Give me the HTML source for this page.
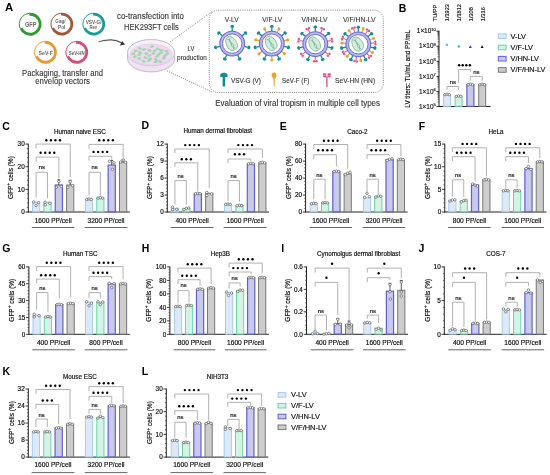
<!DOCTYPE html>
<html><head><meta charset="utf-8"><style>
html,body{margin:0;padding:0;background:#fff;}
svg{display:block;font-family:"Liberation Sans", sans-serif;will-change:transform;}
</style></head><body>
<svg width="550" height="475" viewBox="0 0 550 475">
<rect width="550" height="475" fill="#fff"/>
<text x="5" y="11.4" font-size="10.3" textLength="8.2" lengthAdjust="spacingAndGlyphs" font-weight="bold" fill="#000" >A</text>
<path d="M20.17,28.46 A10.9,10.9 0 0 1 29.25,13.34" fill="none" stroke="#2f9a2f" stroke-width="1.0"/>
<path d="M29.33,14.24 A10.0,10.0 0 1 1 20.99,28.11" fill="none" stroke="#2f9a2f" stroke-width="2.9"/>
<text x="25" y="26.8" font-size="6.6" textLength="11.4" lengthAdjust="spacingAndGlyphs" font-weight="bold" fill="#666" >GFP</text>
<path d="M51.87,28.36 A10.9,10.9 0 0 1 60.95,13.24" fill="none" stroke="#a0573a" stroke-width="1.0"/>
<path d="M61.03,14.14 A10.0,10.0 0 1 1 52.69,28.01" fill="none" stroke="#a0573a" stroke-width="2.9"/>
<text x="55.3" y="22.9" font-size="5.4" textLength="10.3" lengthAdjust="spacingAndGlyphs" font-weight="bold" fill="#666" >Gag/</text>
<text x="58" y="29" font-size="5.4" textLength="7.4" lengthAdjust="spacingAndGlyphs" font-weight="bold" fill="#666" >Pol</text>
<path d="M83.77,28.36 A10.9,10.9 0 0 1 92.85,13.24" fill="none" stroke="#1c9c98" stroke-width="1.0"/>
<path d="M92.93,14.14 A10.0,10.0 0 1 1 84.59,28.01" fill="none" stroke="#1c9c98" stroke-width="2.9"/>
<text x="85.7" y="23.7" font-size="4.9" textLength="15.9" lengthAdjust="spacingAndGlyphs" font-weight="bold" fill="#666" >VSV-G/</text>
<text x="89.4" y="29.3" font-size="5.0" textLength="7.7" lengthAdjust="spacingAndGlyphs" font-weight="bold" fill="#666" >Rev</text>
<path d="M35.47,56.56 A10.9,10.9 0 0 1 44.55,41.44" fill="none" stroke="#e8992e" stroke-width="1.0"/>
<path d="M44.63,42.34 A10.0,10.0 0 1 1 36.29,56.21" fill="none" stroke="#e8992e" stroke-width="2.9"/>
<text x="38.6" y="55" font-size="5.6" textLength="14.3" lengthAdjust="spacingAndGlyphs" font-weight="bold" fill="#666" >SeV-F</text>
<path d="M66.77,56.56 A10.9,10.9 0 0 1 75.85,41.44" fill="none" stroke="#d64c7c" stroke-width="1.0"/>
<path d="M75.93,42.34 A10.0,10.0 0 1 1 67.59,56.21" fill="none" stroke="#d64c7c" stroke-width="2.9"/>
<text x="68.8" y="54.8" font-size="5.0" textLength="15.8" lengthAdjust="spacingAndGlyphs" font-weight="bold" fill="#666" >SeV-HN</text>
<text x="22.1" y="75.6" font-size="8.5" textLength="81" lengthAdjust="spacingAndGlyphs" font-weight="normal" fill="#383838" stroke="#383838" stroke-width="0.12" >Packaging, transfer and</text>
<text x="35.2" y="84.4" font-size="8.5" textLength="54.8" lengthAdjust="spacingAndGlyphs" font-weight="normal" fill="#383838" stroke="#383838" stroke-width="0.12" >envelop vectors</text>
<text x="117" y="19.1" font-size="8.5" textLength="67" lengthAdjust="spacingAndGlyphs" font-weight="normal" fill="#383838" stroke="#383838" stroke-width="0.12" >co-transfection into</text>
<text x="124.1" y="30" font-size="8.5" textLength="54.6" lengthAdjust="spacingAndGlyphs" font-weight="normal" fill="#383838" stroke="#383838" stroke-width="0.12" >HEK293FT cells</text>
<path d="M98.6,41.9 Q105,40.2 111,40.3 Q116.5,40.6 121.2,43.0 L121.6,42.2 Q116.5,39.5 111,39.4 Q104.5,39.5 98.6,41.6 Z" fill="#333" stroke="#333" stroke-width="0.25"/>
<polygon points="125.1,44.6 119.9,45.5 122.1,41.0" fill="#333"/>
<path d="M127.6,52.7 A23.5,13.1 0 0 1 174.6,52.7 L174.6,58.8 A23.5,13.1 0 0 1 127.6,58.8 Z" fill="#f1e2f3" stroke="#b5adb9" stroke-width="0.8"/>
<ellipse cx="151.1" cy="52.7" rx="23.5" ry="13.1" fill="#f6f0f7" stroke="#c2bac6" stroke-width="0.75"/>
<ellipse cx="151.1" cy="54.4" rx="21.0" ry="10.4" fill="#eedaf2" stroke="#d6c2dc" stroke-width="0.5"/>
<ellipse cx="149.29" cy="55.48" rx="1.9" ry="0.9" transform="rotate(-5 149.29 55.48)" fill="#a6dbae" stroke="#86c996" stroke-width="0.35"/>
<ellipse cx="167.22" cy="53.78" rx="1.9" ry="0.9" transform="rotate(-13 167.22 53.78)" fill="#a6dbae" stroke="#86c996" stroke-width="0.35"/>
<ellipse cx="139.12" cy="54.61" rx="1.9" ry="0.9" transform="rotate(-12 139.12 54.61)" fill="#a6dbae" stroke="#86c996" stroke-width="0.35"/>
<ellipse cx="156.04" cy="59.67" rx="1.9" ry="0.9" transform="rotate(24 156.04 59.67)" fill="#a6dbae" stroke="#86c996" stroke-width="0.35"/>
<ellipse cx="135.68" cy="50.86" rx="1.9" ry="0.9" transform="rotate(-13 135.68 50.86)" fill="#a6dbae" stroke="#86c996" stroke-width="0.35"/>
<ellipse cx="156.95" cy="56.48" rx="1.9" ry="0.9" transform="rotate(-19 156.95 56.48)" fill="#a6dbae" stroke="#86c996" stroke-width="0.35"/>
<ellipse cx="152.18" cy="46.47" rx="1.9" ry="0.9" transform="rotate(-17 152.18 46.47)" fill="#a6dbae" stroke="#86c996" stroke-width="0.35"/>
<ellipse cx="133.24" cy="53.75" rx="1.9" ry="0.9" transform="rotate(-10 133.24 53.75)" fill="#a6dbae" stroke="#86c996" stroke-width="0.35"/>
<ellipse cx="148.84" cy="60.56" rx="1.9" ry="0.9" transform="rotate(-17 148.84 60.56)" fill="#a6dbae" stroke="#86c996" stroke-width="0.35"/>
<ellipse cx="149.48" cy="50.41" rx="1.9" ry="0.9" transform="rotate(21 149.48 50.41)" fill="#a6dbae" stroke="#86c996" stroke-width="0.35"/>
<ellipse cx="164.03" cy="58.14" rx="1.9" ry="0.9" transform="rotate(-20 164.03 58.14)" fill="#a6dbae" stroke="#86c996" stroke-width="0.35"/>
<ellipse cx="144.08" cy="49.53" rx="1.9" ry="0.9" transform="rotate(-9 144.08 49.53)" fill="#a6dbae" stroke="#86c996" stroke-width="0.35"/>
<ellipse cx="161.22" cy="52.61" rx="1.9" ry="0.9" transform="rotate(-1 161.22 52.61)" fill="#a6dbae" stroke="#86c996" stroke-width="0.35"/>
<ellipse cx="134.88" cy="56.73" rx="1.9" ry="0.9" transform="rotate(-19 134.88 56.73)" fill="#a6dbae" stroke="#86c996" stroke-width="0.35"/>
<ellipse cx="161.68" cy="50.26" rx="1.9" ry="0.9" transform="rotate(2 161.68 50.26)" fill="#a6dbae" stroke="#86c996" stroke-width="0.35"/>
<ellipse cx="153.35" cy="53.45" rx="1.9" ry="0.9" transform="rotate(1 153.35 53.45)" fill="#a6dbae" stroke="#86c996" stroke-width="0.35"/>
<ellipse cx="139.35" cy="58.57" rx="1.9" ry="0.9" transform="rotate(9 139.35 58.57)" fill="#a6dbae" stroke="#86c996" stroke-width="0.35"/>
<ellipse cx="143.66" cy="61.33" rx="1.9" ry="0.9" transform="rotate(25 143.66 61.33)" fill="#a6dbae" stroke="#86c996" stroke-width="0.35"/>
<ellipse cx="140.11" cy="52.5" rx="1.9" ry="0.9" transform="rotate(20 140.11 52.5)" fill="#a6dbae" stroke="#86c996" stroke-width="0.35"/>
<ellipse cx="146.22" cy="53.56" rx="1.9" ry="0.9" transform="rotate(-17 146.22 53.56)" fill="#a6dbae" stroke="#86c996" stroke-width="0.35"/>
<ellipse cx="154.77" cy="50.68" rx="1.9" ry="0.9" transform="rotate(-13 154.77 50.68)" fill="#a6dbae" stroke="#86c996" stroke-width="0.35"/>
<ellipse cx="150.42" cy="58.55" rx="1.9" ry="0.9" transform="rotate(0 150.42 58.55)" fill="#a6dbae" stroke="#86c996" stroke-width="0.35"/>
<ellipse cx="160.11" cy="61.6" rx="1.9" ry="0.9" transform="rotate(15 160.11 61.6)" fill="#a6dbae" stroke="#86c996" stroke-width="0.35"/>
<ellipse cx="145.47" cy="57.73" rx="1.9" ry="0.9" transform="rotate(18 145.47 57.73)" fill="#a6dbae" stroke="#86c996" stroke-width="0.35"/>
<ellipse cx="164.91" cy="55.71" rx="1.9" ry="0.9" transform="rotate(-24 164.91 55.71)" fill="#a6dbae" stroke="#86c996" stroke-width="0.35"/>
<ellipse cx="158.64" cy="54.35" rx="1.9" ry="0.9" transform="rotate(-19 158.64 54.35)" fill="#a6dbae" stroke="#86c996" stroke-width="0.35"/>
<ellipse cx="155.45" cy="61.97" rx="1.9" ry="0.9" transform="rotate(-13 155.45 61.97)" fill="#a6dbae" stroke="#86c996" stroke-width="0.35"/>
<ellipse cx="139.8" cy="48.45" rx="1.9" ry="0.9" transform="rotate(11 139.8 48.45)" fill="#a6dbae" stroke="#86c996" stroke-width="0.35"/>
<ellipse cx="158.11" cy="48.99" rx="1.9" ry="0.9" transform="rotate(18 158.11 48.99)" fill="#a6dbae" stroke="#86c996" stroke-width="0.35"/>
<ellipse cx="166.4" cy="51.09" rx="1.9" ry="0.9" transform="rotate(-3 166.4 51.09)" fill="#a6dbae" stroke="#86c996" stroke-width="0.35"/>
<text x="187.6" y="51.4" font-size="6.6" textLength="6.7" lengthAdjust="spacingAndGlyphs" font-weight="normal" fill="#383838" stroke="#383838" stroke-width="0.12" >LV</text>
<text x="177.1" y="59.6" font-size="6.9" textLength="29.7" lengthAdjust="spacingAndGlyphs" font-weight="normal" fill="#383838" stroke="#383838" stroke-width="0.12" >production</text>
<path d="M170.3,41.8 L212.6,11.2" fill="none" stroke="#6a6a6a" stroke-width="0.9" stroke-dasharray="0.9,1.3"/>
<path d="M167.0,70.8 L212.8,92.3" fill="none" stroke="#6a6a6a" stroke-width="0.9" stroke-dasharray="0.9,1.3"/>
<rect x="209.3" y="10.1" width="174.0" height="82.4" rx="9" ry="9" fill="none" stroke="#6a6a6a" stroke-width="0.9" stroke-dasharray="0.9,1.3"/>
<text x="224.7" y="21.9" font-size="7.2" textLength="13.9" lengthAdjust="spacingAndGlyphs" font-weight="normal" fill="#3a3a3a" stroke="#3a3a3a" stroke-width="0.12" >V-LV</text>
<g transform="rotate(0 232.2 43.6)"><rect x="231.55" y="27" width="1.3" height="4.2" fill="#1a8a92"/><path d="M230.4,27.6 C230.1,25.3 231.2,25 232.2,25 C233.2,25 234.3,25.3 234,27.6 Z" fill="#1a8a92"/></g>
<g transform="rotate(51.43 232.2 43.6)"><rect x="231.55" y="27" width="1.3" height="4.2" fill="#1a8a92"/><path d="M230.4,27.6 C230.1,25.3 231.2,25 232.2,25 C233.2,25 234.3,25.3 234,27.6 Z" fill="#1a8a92"/></g>
<g transform="rotate(102.86 232.2 43.6)"><rect x="231.55" y="27" width="1.3" height="4.2" fill="#1a8a92"/><path d="M230.4,27.6 C230.1,25.3 231.2,25 232.2,25 C233.2,25 234.3,25.3 234,27.6 Z" fill="#1a8a92"/></g>
<g transform="rotate(154.29 232.2 43.6)"><rect x="231.55" y="27" width="1.3" height="4.2" fill="#1a8a92"/><path d="M230.4,27.6 C230.1,25.3 231.2,25 232.2,25 C233.2,25 234.3,25.3 234,27.6 Z" fill="#1a8a92"/></g>
<g transform="rotate(205.71 232.2 43.6)"><rect x="231.55" y="27" width="1.3" height="4.2" fill="#1a8a92"/><path d="M230.4,27.6 C230.1,25.3 231.2,25 232.2,25 C233.2,25 234.3,25.3 234,27.6 Z" fill="#1a8a92"/></g>
<g transform="rotate(257.14 232.2 43.6)"><rect x="231.55" y="27" width="1.3" height="4.2" fill="#1a8a92"/><path d="M230.4,27.6 C230.1,25.3 231.2,25 232.2,25 C233.2,25 234.3,25.3 234,27.6 Z" fill="#1a8a92"/></g>
<g transform="rotate(308.57 232.2 43.6)"><rect x="231.55" y="27" width="1.3" height="4.2" fill="#1a8a92"/><path d="M230.4,27.6 C230.1,25.3 231.2,25 232.2,25 C233.2,25 234.3,25.3 234,27.6 Z" fill="#1a8a92"/></g>
<circle cx="232.2" cy="43.6" r="12.4" fill="#b2b4ec" stroke="#6a6ad2" stroke-width="1.05"/>
<circle cx="232.2" cy="43.6" r="10.8" fill="none" stroke="#c9cbf2" stroke-width="0.6" stroke-dasharray="0.8,0.8"/>
<circle cx="232.2" cy="43.6" r="9.7" fill="#fff" stroke="#6a6ad2" stroke-width="0.9"/>
<g transform="translate(231.4,43.4) rotate(-28) scale(1.1)"><path d="M0,-6.8 C3.8,-6.8 4.9,-1 4.7,1.5 C4.5,4.8 2.5,6.6 0,6.6 C-2.5,6.6 -4.5,4.8 -4.7,1.5 C-4.9,-1 -3.8,-6.8 0,-6.8 Z" fill="#d3ecdb" stroke="#86bfa0" stroke-width="0.8"/><path d="M-1.6,-4.8 C1.8,-3.4 -2.2,-1.2 0.4,0.6 C2.6,2.2 -1.6,3.6 0.9,5.3" fill="none" stroke="#6aa888" stroke-width="0.6"/><path d="M1.2,-4.9 C-2.0,-3.2 1.8,-1.0 -0.5,0.8 C-2.4,2.4 1.6,3.8 -0.8,5.3" fill="none" stroke="#6aa888" stroke-width="0.6"/></g>
<text x="262.2" y="21.9" font-size="7.2" textLength="20.1" lengthAdjust="spacingAndGlyphs" font-weight="normal" fill="#3a3a3a" stroke="#3a3a3a" stroke-width="0.12" >V/F-LV</text>
<g transform="rotate(0 271.8 43.6)"><rect x="271.15" y="27" width="1.3" height="4.2" fill="#1a8a92"/><path d="M270,27.6 C269.7,25.3 270.8,25 271.8,25 C272.8,25 273.9,25.3 273.6,27.6 Z" fill="#1a8a92"/></g>
<g transform="rotate(51.43 271.8 43.6)"><rect x="271.15" y="27" width="1.3" height="4.2" fill="#1a8a92"/><path d="M270,27.6 C269.7,25.3 270.8,25 271.8,25 C272.8,25 273.9,25.3 273.6,27.6 Z" fill="#1a8a92"/></g>
<g transform="rotate(102.86 271.8 43.6)"><rect x="271.15" y="27" width="1.3" height="4.2" fill="#1a8a92"/><path d="M270,27.6 C269.7,25.3 270.8,25 271.8,25 C272.8,25 273.9,25.3 273.6,27.6 Z" fill="#1a8a92"/></g>
<g transform="rotate(154.29 271.8 43.6)"><rect x="271.15" y="27" width="1.3" height="4.2" fill="#1a8a92"/><path d="M270,27.6 C269.7,25.3 270.8,25 271.8,25 C272.8,25 273.9,25.3 273.6,27.6 Z" fill="#1a8a92"/></g>
<g transform="rotate(205.71 271.8 43.6)"><rect x="271.15" y="27" width="1.3" height="4.2" fill="#1a8a92"/><path d="M270,27.6 C269.7,25.3 270.8,25 271.8,25 C272.8,25 273.9,25.3 273.6,27.6 Z" fill="#1a8a92"/></g>
<g transform="rotate(257.14 271.8 43.6)"><rect x="271.15" y="27" width="1.3" height="4.2" fill="#1a8a92"/><path d="M270,27.6 C269.7,25.3 270.8,25 271.8,25 C272.8,25 273.9,25.3 273.6,27.6 Z" fill="#1a8a92"/></g>
<g transform="rotate(308.57 271.8 43.6)"><rect x="271.15" y="27" width="1.3" height="4.2" fill="#1a8a92"/><path d="M270,27.6 C269.7,25.3 270.8,25 271.8,25 C272.8,25 273.9,25.3 273.6,27.6 Z" fill="#1a8a92"/></g>
<g transform="rotate(25.71 271.8 43.6)"><rect x="271.25" y="27.8" width="1.1" height="3.4" fill="#eba12c"/><ellipse cx="271.8" cy="27.2" rx="1.45" ry="1.6" fill="#eba12c"/></g>
<g transform="rotate(77.14 271.8 43.6)"><rect x="271.25" y="27.8" width="1.1" height="3.4" fill="#eba12c"/><ellipse cx="271.8" cy="27.2" rx="1.45" ry="1.6" fill="#eba12c"/></g>
<g transform="rotate(128.57 271.8 43.6)"><rect x="271.25" y="27.8" width="1.1" height="3.4" fill="#eba12c"/><ellipse cx="271.8" cy="27.2" rx="1.45" ry="1.6" fill="#eba12c"/></g>
<g transform="rotate(180 271.8 43.6)"><rect x="271.25" y="27.8" width="1.1" height="3.4" fill="#eba12c"/><ellipse cx="271.8" cy="27.2" rx="1.45" ry="1.6" fill="#eba12c"/></g>
<g transform="rotate(231.43 271.8 43.6)"><rect x="271.25" y="27.8" width="1.1" height="3.4" fill="#eba12c"/><ellipse cx="271.8" cy="27.2" rx="1.45" ry="1.6" fill="#eba12c"/></g>
<g transform="rotate(282.86 271.8 43.6)"><rect x="271.25" y="27.8" width="1.1" height="3.4" fill="#eba12c"/><ellipse cx="271.8" cy="27.2" rx="1.45" ry="1.6" fill="#eba12c"/></g>
<g transform="rotate(334.29 271.8 43.6)"><rect x="271.25" y="27.8" width="1.1" height="3.4" fill="#eba12c"/><ellipse cx="271.8" cy="27.2" rx="1.45" ry="1.6" fill="#eba12c"/></g>
<circle cx="271.8" cy="43.6" r="12.4" fill="#b2b4ec" stroke="#6a6ad2" stroke-width="1.05"/>
<circle cx="271.8" cy="43.6" r="10.8" fill="none" stroke="#c9cbf2" stroke-width="0.6" stroke-dasharray="0.8,0.8"/>
<circle cx="271.8" cy="43.6" r="9.7" fill="#fff" stroke="#6a6ad2" stroke-width="0.9"/>
<g transform="translate(271,43.4) rotate(-28) scale(1.1)"><path d="M0,-6.8 C3.8,-6.8 4.9,-1 4.7,1.5 C4.5,4.8 2.5,6.6 0,6.6 C-2.5,6.6 -4.5,4.8 -4.7,1.5 C-4.9,-1 -3.8,-6.8 0,-6.8 Z" fill="#d3ecdb" stroke="#86bfa0" stroke-width="0.8"/><path d="M-1.6,-4.8 C1.8,-3.4 -2.2,-1.2 0.4,0.6 C2.6,2.2 -1.6,3.6 0.9,5.3" fill="none" stroke="#6aa888" stroke-width="0.6"/><path d="M1.2,-4.9 C-2.0,-3.2 1.8,-1.0 -0.5,0.8 C-2.4,2.4 1.6,3.8 -0.8,5.3" fill="none" stroke="#6aa888" stroke-width="0.6"/></g>
<text x="301.5" y="21.9" font-size="7.2" textLength="26.1" lengthAdjust="spacingAndGlyphs" font-weight="normal" fill="#3a3a3a" stroke="#3a3a3a" stroke-width="0.12" >V/HN-LV</text>
<g transform="rotate(0 315.3 44.1)"><rect x="314.65" y="27.5" width="1.3" height="4.2" fill="#1a8a92"/><path d="M313.5,28.1 C313.2,25.8 314.3,25.5 315.3,25.5 C316.3,25.5 317.4,25.8 317.1,28.1 Z" fill="#1a8a92"/></g>
<g transform="rotate(51.43 315.3 44.1)"><rect x="314.65" y="27.5" width="1.3" height="4.2" fill="#1a8a92"/><path d="M313.5,28.1 C313.2,25.8 314.3,25.5 315.3,25.5 C316.3,25.5 317.4,25.8 317.1,28.1 Z" fill="#1a8a92"/></g>
<g transform="rotate(102.86 315.3 44.1)"><rect x="314.65" y="27.5" width="1.3" height="4.2" fill="#1a8a92"/><path d="M313.5,28.1 C313.2,25.8 314.3,25.5 315.3,25.5 C316.3,25.5 317.4,25.8 317.1,28.1 Z" fill="#1a8a92"/></g>
<g transform="rotate(154.29 315.3 44.1)"><rect x="314.65" y="27.5" width="1.3" height="4.2" fill="#1a8a92"/><path d="M313.5,28.1 C313.2,25.8 314.3,25.5 315.3,25.5 C316.3,25.5 317.4,25.8 317.1,28.1 Z" fill="#1a8a92"/></g>
<g transform="rotate(205.71 315.3 44.1)"><rect x="314.65" y="27.5" width="1.3" height="4.2" fill="#1a8a92"/><path d="M313.5,28.1 C313.2,25.8 314.3,25.5 315.3,25.5 C316.3,25.5 317.4,25.8 317.1,28.1 Z" fill="#1a8a92"/></g>
<g transform="rotate(257.14 315.3 44.1)"><rect x="314.65" y="27.5" width="1.3" height="4.2" fill="#1a8a92"/><path d="M313.5,28.1 C313.2,25.8 314.3,25.5 315.3,25.5 C316.3,25.5 317.4,25.8 317.1,28.1 Z" fill="#1a8a92"/></g>
<g transform="rotate(308.57 315.3 44.1)"><rect x="314.65" y="27.5" width="1.3" height="4.2" fill="#1a8a92"/><path d="M313.5,28.1 C313.2,25.8 314.3,25.5 315.3,25.5 C316.3,25.5 317.4,25.8 317.1,28.1 Z" fill="#1a8a92"/></g>
<g transform="rotate(25.71 315.3 44.1)"><rect x="314.8" y="27.9" width="1" height="3.8" fill="#dc5a86"/><circle cx="314.05" cy="27" r="1.25" fill="#dc5a86"/><circle cx="316.55" cy="27" r="1.25" fill="#dc5a86"/></g>
<g transform="rotate(77.14 315.3 44.1)"><rect x="314.8" y="27.9" width="1" height="3.8" fill="#dc5a86"/><circle cx="314.05" cy="27" r="1.25" fill="#dc5a86"/><circle cx="316.55" cy="27" r="1.25" fill="#dc5a86"/></g>
<g transform="rotate(128.57 315.3 44.1)"><rect x="314.8" y="27.9" width="1" height="3.8" fill="#dc5a86"/><circle cx="314.05" cy="27" r="1.25" fill="#dc5a86"/><circle cx="316.55" cy="27" r="1.25" fill="#dc5a86"/></g>
<g transform="rotate(180 315.3 44.1)"><rect x="314.8" y="27.9" width="1" height="3.8" fill="#dc5a86"/><circle cx="314.05" cy="27" r="1.25" fill="#dc5a86"/><circle cx="316.55" cy="27" r="1.25" fill="#dc5a86"/></g>
<g transform="rotate(231.43 315.3 44.1)"><rect x="314.8" y="27.9" width="1" height="3.8" fill="#dc5a86"/><circle cx="314.05" cy="27" r="1.25" fill="#dc5a86"/><circle cx="316.55" cy="27" r="1.25" fill="#dc5a86"/></g>
<g transform="rotate(282.86 315.3 44.1)"><rect x="314.8" y="27.9" width="1" height="3.8" fill="#dc5a86"/><circle cx="314.05" cy="27" r="1.25" fill="#dc5a86"/><circle cx="316.55" cy="27" r="1.25" fill="#dc5a86"/></g>
<g transform="rotate(334.29 315.3 44.1)"><rect x="314.8" y="27.9" width="1" height="3.8" fill="#dc5a86"/><circle cx="314.05" cy="27" r="1.25" fill="#dc5a86"/><circle cx="316.55" cy="27" r="1.25" fill="#dc5a86"/></g>
<circle cx="315.3" cy="44.1" r="12.4" fill="#b2b4ec" stroke="#6a6ad2" stroke-width="1.05"/>
<circle cx="315.3" cy="44.1" r="10.8" fill="none" stroke="#c9cbf2" stroke-width="0.6" stroke-dasharray="0.8,0.8"/>
<circle cx="315.3" cy="44.1" r="9.7" fill="#fff" stroke="#6a6ad2" stroke-width="0.9"/>
<g transform="translate(314.5,43.9) rotate(-28) scale(1.1)"><path d="M0,-6.8 C3.8,-6.8 4.9,-1 4.7,1.5 C4.5,4.8 2.5,6.6 0,6.6 C-2.5,6.6 -4.5,4.8 -4.7,1.5 C-4.9,-1 -3.8,-6.8 0,-6.8 Z" fill="#d3ecdb" stroke="#86bfa0" stroke-width="0.8"/><path d="M-1.6,-4.8 C1.8,-3.4 -2.2,-1.2 0.4,0.6 C2.6,2.2 -1.6,3.6 0.9,5.3" fill="none" stroke="#6aa888" stroke-width="0.6"/><path d="M1.2,-4.9 C-2.0,-3.2 1.8,-1.0 -0.5,0.8 C-2.4,2.4 1.6,3.8 -0.8,5.3" fill="none" stroke="#6aa888" stroke-width="0.6"/></g>
<text x="342.9" y="21.9" font-size="7.2" textLength="32.7" lengthAdjust="spacingAndGlyphs" font-weight="normal" fill="#3a3a3a" stroke="#3a3a3a" stroke-width="0.12" >V/F/HN-LV</text>
<g transform="rotate(0 358.3 44.3)"><rect x="357.65" y="27.7" width="1.3" height="4.2" fill="#1a8a92"/><path d="M356.5,28.3 C356.2,26 357.3,25.7 358.3,25.7 C359.3,25.7 360.4,26 360.1,28.3 Z" fill="#1a8a92"/></g>
<g transform="rotate(51.43 358.3 44.3)"><rect x="357.65" y="27.7" width="1.3" height="4.2" fill="#1a8a92"/><path d="M356.5,28.3 C356.2,26 357.3,25.7 358.3,25.7 C359.3,25.7 360.4,26 360.1,28.3 Z" fill="#1a8a92"/></g>
<g transform="rotate(102.86 358.3 44.3)"><rect x="357.65" y="27.7" width="1.3" height="4.2" fill="#1a8a92"/><path d="M356.5,28.3 C356.2,26 357.3,25.7 358.3,25.7 C359.3,25.7 360.4,26 360.1,28.3 Z" fill="#1a8a92"/></g>
<g transform="rotate(154.29 358.3 44.3)"><rect x="357.65" y="27.7" width="1.3" height="4.2" fill="#1a8a92"/><path d="M356.5,28.3 C356.2,26 357.3,25.7 358.3,25.7 C359.3,25.7 360.4,26 360.1,28.3 Z" fill="#1a8a92"/></g>
<g transform="rotate(205.71 358.3 44.3)"><rect x="357.65" y="27.7" width="1.3" height="4.2" fill="#1a8a92"/><path d="M356.5,28.3 C356.2,26 357.3,25.7 358.3,25.7 C359.3,25.7 360.4,26 360.1,28.3 Z" fill="#1a8a92"/></g>
<g transform="rotate(257.14 358.3 44.3)"><rect x="357.65" y="27.7" width="1.3" height="4.2" fill="#1a8a92"/><path d="M356.5,28.3 C356.2,26 357.3,25.7 358.3,25.7 C359.3,25.7 360.4,26 360.1,28.3 Z" fill="#1a8a92"/></g>
<g transform="rotate(308.57 358.3 44.3)"><rect x="357.65" y="27.7" width="1.3" height="4.2" fill="#1a8a92"/><path d="M356.5,28.3 C356.2,26 357.3,25.7 358.3,25.7 C359.3,25.7 360.4,26 360.1,28.3 Z" fill="#1a8a92"/></g>
<g transform="rotate(17.14 358.3 44.3)"><rect x="357.75" y="28.5" width="1.1" height="3.4" fill="#eba12c"/><ellipse cx="358.3" cy="27.9" rx="1.45" ry="1.6" fill="#eba12c"/></g>
<g transform="rotate(68.57 358.3 44.3)"><rect x="357.75" y="28.5" width="1.1" height="3.4" fill="#eba12c"/><ellipse cx="358.3" cy="27.9" rx="1.45" ry="1.6" fill="#eba12c"/></g>
<g transform="rotate(120 358.3 44.3)"><rect x="357.75" y="28.5" width="1.1" height="3.4" fill="#eba12c"/><ellipse cx="358.3" cy="27.9" rx="1.45" ry="1.6" fill="#eba12c"/></g>
<g transform="rotate(171.43 358.3 44.3)"><rect x="357.75" y="28.5" width="1.1" height="3.4" fill="#eba12c"/><ellipse cx="358.3" cy="27.9" rx="1.45" ry="1.6" fill="#eba12c"/></g>
<g transform="rotate(222.86 358.3 44.3)"><rect x="357.75" y="28.5" width="1.1" height="3.4" fill="#eba12c"/><ellipse cx="358.3" cy="27.9" rx="1.45" ry="1.6" fill="#eba12c"/></g>
<g transform="rotate(274.29 358.3 44.3)"><rect x="357.75" y="28.5" width="1.1" height="3.4" fill="#eba12c"/><ellipse cx="358.3" cy="27.9" rx="1.45" ry="1.6" fill="#eba12c"/></g>
<g transform="rotate(325.71 358.3 44.3)"><rect x="357.75" y="28.5" width="1.1" height="3.4" fill="#eba12c"/><ellipse cx="358.3" cy="27.9" rx="1.45" ry="1.6" fill="#eba12c"/></g>
<g transform="rotate(34.29 358.3 44.3)"><rect x="357.8" y="28.1" width="1" height="3.8" fill="#dc5a86"/><circle cx="357.05" cy="27.2" r="1.25" fill="#dc5a86"/><circle cx="359.55" cy="27.2" r="1.25" fill="#dc5a86"/></g>
<g transform="rotate(85.71 358.3 44.3)"><rect x="357.8" y="28.1" width="1" height="3.8" fill="#dc5a86"/><circle cx="357.05" cy="27.2" r="1.25" fill="#dc5a86"/><circle cx="359.55" cy="27.2" r="1.25" fill="#dc5a86"/></g>
<g transform="rotate(137.14 358.3 44.3)"><rect x="357.8" y="28.1" width="1" height="3.8" fill="#dc5a86"/><circle cx="357.05" cy="27.2" r="1.25" fill="#dc5a86"/><circle cx="359.55" cy="27.2" r="1.25" fill="#dc5a86"/></g>
<g transform="rotate(188.57 358.3 44.3)"><rect x="357.8" y="28.1" width="1" height="3.8" fill="#dc5a86"/><circle cx="357.05" cy="27.2" r="1.25" fill="#dc5a86"/><circle cx="359.55" cy="27.2" r="1.25" fill="#dc5a86"/></g>
<g transform="rotate(240 358.3 44.3)"><rect x="357.8" y="28.1" width="1" height="3.8" fill="#dc5a86"/><circle cx="357.05" cy="27.2" r="1.25" fill="#dc5a86"/><circle cx="359.55" cy="27.2" r="1.25" fill="#dc5a86"/></g>
<g transform="rotate(291.43 358.3 44.3)"><rect x="357.8" y="28.1" width="1" height="3.8" fill="#dc5a86"/><circle cx="357.05" cy="27.2" r="1.25" fill="#dc5a86"/><circle cx="359.55" cy="27.2" r="1.25" fill="#dc5a86"/></g>
<g transform="rotate(342.86 358.3 44.3)"><rect x="357.8" y="28.1" width="1" height="3.8" fill="#dc5a86"/><circle cx="357.05" cy="27.2" r="1.25" fill="#dc5a86"/><circle cx="359.55" cy="27.2" r="1.25" fill="#dc5a86"/></g>
<circle cx="358.3" cy="44.3" r="12.4" fill="#b2b4ec" stroke="#6a6ad2" stroke-width="1.05"/>
<circle cx="358.3" cy="44.3" r="10.8" fill="none" stroke="#c9cbf2" stroke-width="0.6" stroke-dasharray="0.8,0.8"/>
<circle cx="358.3" cy="44.3" r="9.7" fill="#fff" stroke="#6a6ad2" stroke-width="0.9"/>
<g transform="translate(357.5,44.1) rotate(-28) scale(1.1)"><path d="M0,-6.8 C3.8,-6.8 4.9,-1 4.7,1.5 C4.5,4.8 2.5,6.6 0,6.6 C-2.5,6.6 -4.5,4.8 -4.7,1.5 C-4.9,-1 -3.8,-6.8 0,-6.8 Z" fill="#d3ecdb" stroke="#86bfa0" stroke-width="0.8"/><path d="M-1.6,-4.8 C1.8,-3.4 -2.2,-1.2 0.4,0.6 C2.6,2.2 -1.6,3.6 0.9,5.3" fill="none" stroke="#6aa888" stroke-width="0.6"/><path d="M1.2,-4.9 C-2.0,-3.2 1.8,-1.0 -0.5,0.8 C-2.4,2.4 1.6,3.8 -0.8,5.3" fill="none" stroke="#6aa888" stroke-width="0.6"/></g>
<g transform="rotate(0 223.9 86.4)"><rect x="222.6" y="75.8" width="2.6" height="10.6" fill="#1a8a92"/><path d="M220.3,77 C219.7,73.4 221.9,72.8 223.9,72.8 C225.9,72.8 228.1,73.4 227.5,77 Z" fill="#1a8a92"/></g>
<text x="230.9" y="83" font-size="7.1" textLength="30.1" lengthAdjust="spacingAndGlyphs" font-weight="normal" fill="#383838" stroke="#383838" stroke-width="0.12" >VSV-G (V)</text>
<g transform="rotate(0 274.2 86.5)"><path d="M273.3,77.5 L273.7,86.5 L274.7,86.5 L275.1,77.5 Z" fill="#eba12c" opacity="0.85"/><path d="M271.6,75.5 C271.2,73 273.2,72.1 274.8,72.5 C276.8,73.3 277,76 275.4,78.5 L273.2,78.5 Z" fill="#eba12c"/></g>
<text x="282.1" y="83" font-size="7.1" textLength="27.3" lengthAdjust="spacingAndGlyphs" font-weight="normal" fill="#383838" stroke="#383838" stroke-width="0.12" >SeV-F (F)</text>
<g transform="rotate(0 326.9 87.2)"><rect x="326.2" y="76.2" width="1.4" height="11" fill="#dc5a86"/><rect x="322.9" y="73.2" width="3.4" height="1.9" rx="0.6" fill="#dc5a86"/><rect x="322.9" y="75.3" width="3.4" height="1.9" rx="0.6" fill="#dc5a86"/><rect x="327.5" y="73.2" width="3.4" height="1.9" rx="0.6" fill="#dc5a86"/><rect x="327.5" y="75.3" width="3.4" height="1.9" rx="0.6" fill="#dc5a86"/></g>
<text x="335" y="83" font-size="7.1" textLength="40.2" lengthAdjust="spacingAndGlyphs" font-weight="normal" fill="#383838" stroke="#383838" stroke-width="0.12" >SeV-HN (HN)</text>
<text x="215.3" y="106" font-size="8.2" textLength="164.7" lengthAdjust="spacingAndGlyphs" font-weight="normal" fill="#383838" stroke="#383838" stroke-width="0.12" >Evaluation of viral tropism in multiple cell types</text>
<text x="398.8" y="11.6" font-size="10.5" text-anchor="start" font-weight="bold" fill="#000" >B</text>
<line x1="439" y1="30.7" x2="439" y2="107" stroke="#222" stroke-width="1" />
<line x1="438.5" y1="106.5" x2="490.5" y2="106.5" stroke="#222" stroke-width="1" />
<line x1="436.4" y1="106.5" x2="439" y2="106.5" stroke="#222" stroke-width="0.9" />
<text x="435.7" y="108.7" font-size="6.4" text-anchor="end" fill="#111" stroke="#111" stroke-width="0.15">1×10<tspan font-size="4.0" dy="-2.5">5</tspan></text>
<line x1="437.5" y1="101.97" x2="439" y2="101.97" stroke="#222" stroke-width="0.6" />
<line x1="437.5" y1="99.31" x2="439" y2="99.31" stroke="#222" stroke-width="0.6" />
<line x1="437.5" y1="97.43" x2="439" y2="97.43" stroke="#222" stroke-width="0.6" />
<line x1="437.5" y1="95.97" x2="439" y2="95.97" stroke="#222" stroke-width="0.6" />
<line x1="437.5" y1="94.78" x2="439" y2="94.78" stroke="#222" stroke-width="0.6" />
<line x1="437.5" y1="93.77" x2="439" y2="93.77" stroke="#222" stroke-width="0.6" />
<line x1="437.5" y1="92.9" x2="439" y2="92.9" stroke="#222" stroke-width="0.6" />
<line x1="437.5" y1="92.13" x2="439" y2="92.13" stroke="#222" stroke-width="0.6" />
<line x1="436.4" y1="91.44" x2="439" y2="91.44" stroke="#222" stroke-width="0.9" />
<text x="435.7" y="93.64" font-size="6.4" text-anchor="end" fill="#111" stroke="#111" stroke-width="0.15">1×10<tspan font-size="4.0" dy="-2.5">6</tspan></text>
<line x1="437.5" y1="86.91" x2="439" y2="86.91" stroke="#222" stroke-width="0.6" />
<line x1="437.5" y1="84.25" x2="439" y2="84.25" stroke="#222" stroke-width="0.6" />
<line x1="437.5" y1="82.37" x2="439" y2="82.37" stroke="#222" stroke-width="0.6" />
<line x1="437.5" y1="80.91" x2="439" y2="80.91" stroke="#222" stroke-width="0.6" />
<line x1="437.5" y1="79.72" x2="439" y2="79.72" stroke="#222" stroke-width="0.6" />
<line x1="437.5" y1="78.71" x2="439" y2="78.71" stroke="#222" stroke-width="0.6" />
<line x1="437.5" y1="77.84" x2="439" y2="77.84" stroke="#222" stroke-width="0.6" />
<line x1="437.5" y1="77.07" x2="439" y2="77.07" stroke="#222" stroke-width="0.6" />
<line x1="436.4" y1="76.38" x2="439" y2="76.38" stroke="#222" stroke-width="0.9" />
<text x="435.7" y="78.58" font-size="6.4" text-anchor="end" fill="#111" stroke="#111" stroke-width="0.15">1×10<tspan font-size="4.0" dy="-2.5">7</tspan></text>
<line x1="437.5" y1="71.85" x2="439" y2="71.85" stroke="#222" stroke-width="0.6" />
<line x1="437.5" y1="69.19" x2="439" y2="69.19" stroke="#222" stroke-width="0.6" />
<line x1="437.5" y1="67.31" x2="439" y2="67.31" stroke="#222" stroke-width="0.6" />
<line x1="437.5" y1="65.85" x2="439" y2="65.85" stroke="#222" stroke-width="0.6" />
<line x1="437.5" y1="64.66" x2="439" y2="64.66" stroke="#222" stroke-width="0.6" />
<line x1="437.5" y1="63.65" x2="439" y2="63.65" stroke="#222" stroke-width="0.6" />
<line x1="437.5" y1="62.78" x2="439" y2="62.78" stroke="#222" stroke-width="0.6" />
<line x1="437.5" y1="62.01" x2="439" y2="62.01" stroke="#222" stroke-width="0.6" />
<line x1="436.4" y1="61.32" x2="439" y2="61.32" stroke="#222" stroke-width="0.9" />
<text x="435.7" y="63.52" font-size="6.4" text-anchor="end" fill="#111" stroke="#111" stroke-width="0.15">1×10<tspan font-size="4.0" dy="-2.5">8</tspan></text>
<line x1="437.5" y1="56.79" x2="439" y2="56.79" stroke="#222" stroke-width="0.6" />
<line x1="437.5" y1="54.13" x2="439" y2="54.13" stroke="#222" stroke-width="0.6" />
<line x1="437.5" y1="52.25" x2="439" y2="52.25" stroke="#222" stroke-width="0.6" />
<line x1="437.5" y1="50.79" x2="439" y2="50.79" stroke="#222" stroke-width="0.6" />
<line x1="437.5" y1="49.6" x2="439" y2="49.6" stroke="#222" stroke-width="0.6" />
<line x1="437.5" y1="48.59" x2="439" y2="48.59" stroke="#222" stroke-width="0.6" />
<line x1="437.5" y1="47.72" x2="439" y2="47.72" stroke="#222" stroke-width="0.6" />
<line x1="437.5" y1="46.95" x2="439" y2="46.95" stroke="#222" stroke-width="0.6" />
<line x1="436.4" y1="46.26" x2="439" y2="46.26" stroke="#222" stroke-width="0.9" />
<text x="435.7" y="48.46" font-size="6.4" text-anchor="end" fill="#111" stroke="#111" stroke-width="0.15">1×10<tspan font-size="4.0" dy="-2.5">9</tspan></text>
<line x1="437.5" y1="41.73" x2="439" y2="41.73" stroke="#222" stroke-width="0.6" />
<line x1="437.5" y1="39.07" x2="439" y2="39.07" stroke="#222" stroke-width="0.6" />
<line x1="437.5" y1="37.19" x2="439" y2="37.19" stroke="#222" stroke-width="0.6" />
<line x1="437.5" y1="35.73" x2="439" y2="35.73" stroke="#222" stroke-width="0.6" />
<line x1="437.5" y1="34.54" x2="439" y2="34.54" stroke="#222" stroke-width="0.6" />
<line x1="437.5" y1="33.53" x2="439" y2="33.53" stroke="#222" stroke-width="0.6" />
<line x1="437.5" y1="32.66" x2="439" y2="32.66" stroke="#222" stroke-width="0.6" />
<line x1="437.5" y1="31.89" x2="439" y2="31.89" stroke="#222" stroke-width="0.6" />
<line x1="436.4" y1="31.2" x2="439" y2="31.2" stroke="#222" stroke-width="0.9" />
<text x="435.7" y="33.4" font-size="6.4" text-anchor="end" fill="#111" stroke="#111" stroke-width="0.15">1×10<tspan font-size="4.0" dy="-2.5">10</tspan></text>
<text transform="translate(409.8,68.85) rotate(-90)" font-size="6.3" text-anchor="middle" fill="#111" stroke="#111" stroke-width="0.18">LV titers: TU/mL and PP/mL</text>
<text transform="translate(436.5,21.2) rotate(-90)" font-size="5.6" text-anchor="start" fill="#111" stroke="#111" stroke-width="0.15">TU/PP</text>
<text transform="translate(449.1,21.2) rotate(-90)" font-size="5.6" text-anchor="start" fill="#111" stroke="#111" stroke-width="0.15">1/1923</text>
<text transform="translate(461,21.2) rotate(-90)" font-size="5.6" text-anchor="start" fill="#111" stroke="#111" stroke-width="0.15">1/1812</text>
<text transform="translate(472.7,21.2) rotate(-90)" font-size="5.6" text-anchor="start" fill="#111" stroke="#111" stroke-width="0.15">1/308</text>
<text transform="translate(484.6,21.2) rotate(-90)" font-size="5.6" text-anchor="start" fill="#111" stroke="#111" stroke-width="0.15">1/316</text>
<rect x="443.6" y="94.5" width="7" height="11.8" fill="#dde9f6" stroke="#a6cbee" stroke-width="1"/>
<circle cx="444.9" cy="94.7" r="1.2" fill="#fff" stroke="#444" stroke-width="0.6"/>
<circle cx="447.1" cy="94.2" r="1.2" fill="#fff" stroke="#444" stroke-width="0.6"/>
<circle cx="449.3" cy="94.7" r="1.2" fill="#fff" stroke="#444" stroke-width="0.6"/>
<rect x="455.1" y="96.2" width="7" height="10.1" fill="#d6f1e5" stroke="#6cd2a6" stroke-width="1"/>
<circle cx="456.4" cy="96.4" r="1.2" fill="#fff" stroke="#444" stroke-width="0.6"/>
<circle cx="458.6" cy="95.9" r="1.2" fill="#fff" stroke="#444" stroke-width="0.6"/>
<circle cx="460.8" cy="96.4" r="1.2" fill="#fff" stroke="#444" stroke-width="0.6"/>
<rect x="466.9" y="84.5" width="7" height="21.8" fill="#c9c9ea" stroke="#6060d6" stroke-width="1.2"/>
<circle cx="468.2" cy="84.7" r="1.2" fill="#fff" stroke="#444" stroke-width="0.6"/>
<circle cx="470.4" cy="84.2" r="1.2" fill="#fff" stroke="#444" stroke-width="0.6"/>
<circle cx="472.6" cy="84.7" r="1.2" fill="#fff" stroke="#444" stroke-width="0.6"/>
<rect x="478.7" y="84.5" width="7" height="21.8" fill="#cdcdcd" stroke="#777777" stroke-width="1"/>
<circle cx="480" cy="84.7" r="1.2" fill="#fff" stroke="#444" stroke-width="0.6"/>
<circle cx="482.2" cy="84.2" r="1.2" fill="#fff" stroke="#444" stroke-width="0.6"/>
<circle cx="484.4" cy="84.7" r="1.2" fill="#fff" stroke="#444" stroke-width="0.6"/>
<rect x="445.7" y="43.6" width="2.4" height="2.4" fill="#7fbcec"/>
<circle cx="458.8" cy="46.5" r="1.3" fill="#33c392"/>
<polygon points="470.3,45.3 471.8,48.1 468.8,48.1" fill="#3434cc"/>
<polygon points="482.1,45.3 483.6,48.1 480.6,48.1" fill="#111"/>
<polyline points="447.1,89.8 447.1,86.5 458.6,86.5 458.6,89.8" fill="none" stroke="#a8a8a8" stroke-width="0.9"/>
<text x="452.85" y="83.6" font-size="6.0" text-anchor="middle" font-weight="normal" fill="#111" stroke="#111" stroke-width="0.18" >ns</text>
<polyline points="470.4,80.5 470.4,76.4 482.2,76.4 482.2,80.5" fill="none" stroke="#a8a8a8" stroke-width="0.9"/>
<text x="476.3" y="73.7" font-size="6.0" text-anchor="middle" font-weight="normal" fill="#111" stroke="#111" stroke-width="0.18" >ns</text>
<polyline points="458.6,82.8 458.6,69.5 470.4,69.5 470.4,71.8" fill="none" stroke="#a8a8a8" stroke-width="0.9"/>
<circle cx="459.1" cy="65.2" r="1.25" fill="#000"/>
<circle cx="462.7" cy="65.2" r="1.25" fill="#000"/>
<circle cx="466.3" cy="65.2" r="1.25" fill="#000"/>
<circle cx="469.9" cy="65.2" r="1.25" fill="#000"/>
<rect x="498.3" y="33.9" width="7.8" height="4.6" fill="#dde9f6" stroke="#a6cbee" stroke-width="1"/>
<text x="510.6" y="38.7" font-size="7.3" text-anchor="start" font-weight="normal" fill="#111" stroke="#111" stroke-width="0.18" >V-LV</text>
<rect x="498.3" y="45.15" width="7.8" height="4.6" fill="#d6f1e5" stroke="#6cd2a6" stroke-width="1"/>
<text x="510.6" y="49.95" font-size="7.3" text-anchor="start" font-weight="normal" fill="#111" stroke="#111" stroke-width="0.18" >V/F-LV</text>
<rect x="498.3" y="56.4" width="7.8" height="4.6" fill="#c9c9ea" stroke="#6060d6" stroke-width="1"/>
<text x="510.6" y="61.2" font-size="7.3" text-anchor="start" font-weight="normal" fill="#111" stroke="#111" stroke-width="0.18" >V/HN-LV</text>
<rect x="498.3" y="67.65" width="7.8" height="4.6" fill="#cdcdcd" stroke="#777777" stroke-width="1"/>
<text x="510.6" y="72.45" font-size="7.3" text-anchor="start" font-weight="normal" fill="#111" stroke="#111" stroke-width="0.18" >V/F/HN-LV</text>
<text x="2.2" y="129.6" font-size="10.5" text-anchor="start" font-weight="bold" fill="#000" >C</text>
<text x="79.8" y="133.6" font-size="6.3" text-anchor="middle" font-weight="normal" fill="#111" stroke="#111" stroke-width="0.18" >Human naive ESC</text>
<line x1="28.3" y1="143.6" x2="28.3" y2="212.5" stroke="#222" stroke-width="1" />
<line x1="25.5" y1="212" x2="28.3" y2="212" stroke="#222" stroke-width="0.9" />
<text x="24.7" y="214.3" font-size="6.4" text-anchor="end" font-weight="normal" fill="#111" stroke="#111" stroke-width="0.18" >0</text>
<line x1="26.9" y1="207.47" x2="28.3" y2="207.47" stroke="#333" stroke-width="0.7" />
<line x1="26.9" y1="202.95" x2="28.3" y2="202.95" stroke="#333" stroke-width="0.7" />
<line x1="26.9" y1="198.42" x2="28.3" y2="198.42" stroke="#333" stroke-width="0.7" />
<line x1="26.9" y1="193.89" x2="28.3" y2="193.89" stroke="#333" stroke-width="0.7" />
<line x1="25.5" y1="189.37" x2="28.3" y2="189.37" stroke="#222" stroke-width="0.9" />
<text x="24.7" y="191.67" font-size="6.4" text-anchor="end" font-weight="normal" fill="#111" stroke="#111" stroke-width="0.18" >10</text>
<line x1="26.9" y1="184.84" x2="28.3" y2="184.84" stroke="#333" stroke-width="0.7" />
<line x1="26.9" y1="180.31" x2="28.3" y2="180.31" stroke="#333" stroke-width="0.7" />
<line x1="26.9" y1="175.79" x2="28.3" y2="175.79" stroke="#333" stroke-width="0.7" />
<line x1="26.9" y1="171.26" x2="28.3" y2="171.26" stroke="#333" stroke-width="0.7" />
<line x1="25.5" y1="166.73" x2="28.3" y2="166.73" stroke="#222" stroke-width="0.9" />
<text x="24.7" y="169.03" font-size="6.4" text-anchor="end" font-weight="normal" fill="#111" stroke="#111" stroke-width="0.18" >20</text>
<line x1="26.9" y1="162.21" x2="28.3" y2="162.21" stroke="#333" stroke-width="0.7" />
<line x1="26.9" y1="157.68" x2="28.3" y2="157.68" stroke="#333" stroke-width="0.7" />
<line x1="26.9" y1="153.15" x2="28.3" y2="153.15" stroke="#333" stroke-width="0.7" />
<line x1="26.9" y1="148.63" x2="28.3" y2="148.63" stroke="#333" stroke-width="0.7" />
<line x1="25.5" y1="144.1" x2="28.3" y2="144.1" stroke="#222" stroke-width="0.9" />
<text x="24.7" y="146.4" font-size="6.4" text-anchor="end" font-weight="normal" fill="#111" stroke="#111" stroke-width="0.18" >30</text>
<text transform="translate(12.95,177.65) rotate(-90)" font-size="6.5" text-anchor="middle" fill="#111" stroke="#111" stroke-width="0.18">GFP<tspan font-size="4.8" dy="-2.6">+</tspan><tspan dy="2.6"> cells (%)</tspan></text>
<line x1="27.8" y1="212" x2="129.81" y2="212" stroke="#222" stroke-width="1" />
<rect x="32.5" y="202.3" width="7.2" height="9.5" fill="#dde9f6" stroke="#a6cbee" stroke-width="1"/>
<rect x="43.87" y="202.3" width="7.2" height="9.5" fill="#d6f1e5" stroke="#6cd2a6" stroke-width="1"/>
<rect x="55.24" y="185" width="7.2" height="26.8" fill="#c9c9ea" stroke="#6060d6" stroke-width="1.2"/>
<rect x="66.61" y="185" width="7.2" height="26.8" fill="#cdcdcd" stroke="#777777" stroke-width="1"/>
<rect x="85.4" y="199.4" width="7.2" height="12.4" fill="#dde9f6" stroke="#a6cbee" stroke-width="1"/>
<rect x="96.77" y="198.1" width="7.2" height="13.7" fill="#d6f1e5" stroke="#6cd2a6" stroke-width="1"/>
<rect x="108.14" y="165.1" width="7.2" height="46.7" fill="#c9c9ea" stroke="#6060d6" stroke-width="1.2"/>
<rect x="119.51" y="162.2" width="7.2" height="49.6" fill="#cdcdcd" stroke="#777777" stroke-width="1"/>
<circle cx="33.7" cy="202" r="1.25" fill="#fff" stroke="#444" stroke-width="0.6"/>
<circle cx="36.1" cy="205.5" r="1.25" fill="#fff" stroke="#444" stroke-width="0.6"/>
<circle cx="38.5" cy="202.6" r="1.25" fill="#fff" stroke="#444" stroke-width="0.6"/>
<circle cx="45.07" cy="202.3" r="1.25" fill="#fff" stroke="#444" stroke-width="0.6"/>
<circle cx="45.27" cy="204.7" r="1.25" fill="#fff" stroke="#444" stroke-width="0.6"/>
<circle cx="49.87" cy="203.3" r="1.25" fill="#fff" stroke="#444" stroke-width="0.6"/>
<line x1="58.84" y1="179.8" x2="58.84" y2="185" stroke="#333" stroke-width="0.8" />
<line x1="57.34" y1="179.8" x2="60.34" y2="179.8" stroke="#333" stroke-width="0.8" />
<circle cx="58.84" cy="181.4" r="1.25" fill="#fff" stroke="#444" stroke-width="0.6"/>
<circle cx="56.44" cy="187.3" r="1.25" fill="#fff" stroke="#444" stroke-width="0.6"/>
<circle cx="61.24" cy="186.4" r="1.25" fill="#fff" stroke="#444" stroke-width="0.6"/>
<line x1="70.21" y1="180.3" x2="70.21" y2="185" stroke="#333" stroke-width="0.8" />
<line x1="68.71" y1="180.3" x2="71.71" y2="180.3" stroke="#333" stroke-width="0.8" />
<circle cx="70.21" cy="181.8" r="1.25" fill="#fff" stroke="#444" stroke-width="0.6"/>
<circle cx="67.81" cy="187.3" r="1.25" fill="#fff" stroke="#444" stroke-width="0.6"/>
<circle cx="72.61" cy="185.6" r="1.25" fill="#fff" stroke="#444" stroke-width="0.6"/>
<circle cx="86.8" cy="199.4" r="1.25" fill="#fff" stroke="#444" stroke-width="0.6"/>
<circle cx="89" cy="199" r="1.25" fill="#fff" stroke="#444" stroke-width="0.6"/>
<circle cx="91.2" cy="199.4" r="1.25" fill="#fff" stroke="#444" stroke-width="0.6"/>
<circle cx="98.17" cy="198.1" r="1.25" fill="#fff" stroke="#444" stroke-width="0.6"/>
<circle cx="100.37" cy="197.7" r="1.25" fill="#fff" stroke="#444" stroke-width="0.6"/>
<circle cx="102.57" cy="198.1" r="1.25" fill="#fff" stroke="#444" stroke-width="0.6"/>
<line x1="111.74" y1="160.5" x2="111.74" y2="165" stroke="#333" stroke-width="0.8" />
<line x1="110.24" y1="160.5" x2="113.24" y2="160.5" stroke="#333" stroke-width="0.8" />
<circle cx="109.44" cy="161.3" r="1.25" fill="#fff" stroke="#444" stroke-width="0.6"/>
<circle cx="114.04" cy="162.8" r="1.25" fill="#fff" stroke="#444" stroke-width="0.6"/>
<circle cx="112.54" cy="169.4" r="1.25" fill="#fff" stroke="#444" stroke-width="0.6"/>
<line x1="123.11" y1="159.8" x2="123.11" y2="162" stroke="#333" stroke-width="0.8" />
<line x1="121.61" y1="159.8" x2="124.61" y2="159.8" stroke="#333" stroke-width="0.8" />
<circle cx="123.11" cy="160" r="1.25" fill="#fff" stroke="#444" stroke-width="0.6"/>
<circle cx="120.71" cy="162" r="1.25" fill="#fff" stroke="#444" stroke-width="0.6"/>
<circle cx="125.51" cy="162.4" r="1.25" fill="#fff" stroke="#444" stroke-width="0.6"/>
<polyline points="36.1,197.5 36.1,172.3 47.47,172.3 47.47,198.3" fill="none" stroke="#a8a8a8" stroke-width="0.9"/>
<text x="41.78" y="168.8" font-size="5.9" text-anchor="middle" font-weight="normal" fill="#111" stroke="#111" stroke-width="0.18" >ns</text>
<polyline points="36.1,161.5 36.1,157.1 58.84,157.1 58.84,178.3" fill="none" stroke="#a8a8a8" stroke-width="0.9"/>
<circle cx="40.64" cy="152.7" r="1.18" fill="#000"/>
<circle cx="45.19" cy="152.7" r="1.18" fill="#000"/>
<circle cx="49.74" cy="152.7" r="1.18" fill="#000"/>
<circle cx="54.29" cy="152.7" r="1.18" fill="#000"/>
<polyline points="36.1,148.5 36.1,144.1 70.21,144.1 70.21,177.3" fill="none" stroke="#a8a8a8" stroke-width="0.9"/>
<circle cx="46.33" cy="140.2" r="1.18" fill="#000"/>
<circle cx="50.88" cy="140.2" r="1.18" fill="#000"/>
<circle cx="55.43" cy="140.2" r="1.18" fill="#000"/>
<circle cx="59.98" cy="140.2" r="1.18" fill="#000"/>
<polyline points="89,195.5 89,172.3 100.37,172.3 100.37,195.5" fill="none" stroke="#a8a8a8" stroke-width="0.9"/>
<text x="94.69" y="168.8" font-size="5.9" text-anchor="middle" font-weight="normal" fill="#111" stroke="#111" stroke-width="0.18" >ns</text>
<polyline points="89,160.7 89,156.3 111.74,156.3 111.74,160.3" fill="none" stroke="#a8a8a8" stroke-width="0.9"/>
<circle cx="93.55" cy="151.9" r="1.18" fill="#000"/>
<circle cx="98.09" cy="151.9" r="1.18" fill="#000"/>
<circle cx="102.64" cy="151.9" r="1.18" fill="#000"/>
<circle cx="107.19" cy="151.9" r="1.18" fill="#000"/>
<polyline points="89,148.8 89,144.4 123.11,144.4 123.11,157.8" fill="none" stroke="#a8a8a8" stroke-width="0.9"/>
<circle cx="99.23" cy="140.3" r="1.18" fill="#000"/>
<circle cx="103.78" cy="140.3" r="1.18" fill="#000"/>
<circle cx="108.33" cy="140.3" r="1.18" fill="#000"/>
<circle cx="112.88" cy="140.3" r="1.18" fill="#000"/>
<text x="53.16" y="222.5" font-size="6.6" text-anchor="middle" font-weight="normal" fill="#111" stroke="#111" stroke-width="0.18" >1600 PP/cell</text>
<text x="106.06" y="222.5" font-size="6.6" text-anchor="middle" font-weight="normal" fill="#111" stroke="#111" stroke-width="0.18" >3200 PP/cell</text>
<line x1="31.8" y1="227.5" x2="74.51" y2="227.5" stroke="#666" stroke-width="1" />
<line x1="84.7" y1="227.5" x2="127.41" y2="227.5" stroke="#666" stroke-width="1" />
<text x="141.4" y="129.2" font-size="10.5" text-anchor="start" font-weight="bold" fill="#000" >D</text>
<text x="217.8" y="132.6" font-size="6.3" text-anchor="middle" font-weight="normal" fill="#111" stroke="#111" stroke-width="0.18" >Human dermal fibroblast</text>
<line x1="167.3" y1="143.6" x2="167.3" y2="212.5" stroke="#222" stroke-width="1" />
<line x1="164.5" y1="212" x2="167.3" y2="212" stroke="#222" stroke-width="0.9" />
<text x="163.7" y="214.3" font-size="6.4" text-anchor="end" font-weight="normal" fill="#111" stroke="#111" stroke-width="0.18" >0</text>
<line x1="165.9" y1="208.6" x2="167.3" y2="208.6" stroke="#333" stroke-width="0.7" />
<line x1="165.9" y1="205.21" x2="167.3" y2="205.21" stroke="#333" stroke-width="0.7" />
<line x1="165.9" y1="201.81" x2="167.3" y2="201.81" stroke="#333" stroke-width="0.7" />
<line x1="165.9" y1="198.42" x2="167.3" y2="198.42" stroke="#333" stroke-width="0.7" />
<line x1="164.5" y1="195.03" x2="167.3" y2="195.03" stroke="#222" stroke-width="0.9" />
<text x="163.7" y="197.33" font-size="6.4" text-anchor="end" font-weight="normal" fill="#111" stroke="#111" stroke-width="0.18" >3</text>
<line x1="165.9" y1="191.63" x2="167.3" y2="191.63" stroke="#333" stroke-width="0.7" />
<line x1="165.9" y1="188.24" x2="167.3" y2="188.24" stroke="#333" stroke-width="0.7" />
<line x1="165.9" y1="184.84" x2="167.3" y2="184.84" stroke="#333" stroke-width="0.7" />
<line x1="165.9" y1="181.44" x2="167.3" y2="181.44" stroke="#333" stroke-width="0.7" />
<line x1="164.5" y1="178.05" x2="167.3" y2="178.05" stroke="#222" stroke-width="0.9" />
<text x="163.7" y="180.35" font-size="6.4" text-anchor="end" font-weight="normal" fill="#111" stroke="#111" stroke-width="0.18" >6</text>
<line x1="165.9" y1="174.66" x2="167.3" y2="174.66" stroke="#333" stroke-width="0.7" />
<line x1="165.9" y1="171.26" x2="167.3" y2="171.26" stroke="#333" stroke-width="0.7" />
<line x1="165.9" y1="167.87" x2="167.3" y2="167.87" stroke="#333" stroke-width="0.7" />
<line x1="165.9" y1="164.47" x2="167.3" y2="164.47" stroke="#333" stroke-width="0.7" />
<line x1="164.5" y1="161.07" x2="167.3" y2="161.07" stroke="#222" stroke-width="0.9" />
<text x="163.7" y="163.38" font-size="6.4" text-anchor="end" font-weight="normal" fill="#111" stroke="#111" stroke-width="0.18" >9</text>
<line x1="165.9" y1="157.68" x2="167.3" y2="157.68" stroke="#333" stroke-width="0.7" />
<line x1="165.9" y1="154.28" x2="167.3" y2="154.28" stroke="#333" stroke-width="0.7" />
<line x1="165.9" y1="150.89" x2="167.3" y2="150.89" stroke="#333" stroke-width="0.7" />
<line x1="165.9" y1="147.49" x2="167.3" y2="147.49" stroke="#333" stroke-width="0.7" />
<line x1="164.5" y1="144.1" x2="167.3" y2="144.1" stroke="#222" stroke-width="0.9" />
<text x="163.7" y="146.4" font-size="6.4" text-anchor="end" font-weight="normal" fill="#111" stroke="#111" stroke-width="0.18" >12</text>
<text transform="translate(152.3,177.65) rotate(-90)" font-size="6.5" text-anchor="middle" fill="#111" stroke="#111" stroke-width="0.18">GFP<tspan font-size="4.8" dy="-2.6">+</tspan><tspan dy="2.6"> cells (%)</tspan></text>
<line x1="166.8" y1="212" x2="269.05" y2="212" stroke="#222" stroke-width="1" />
<rect x="171.3" y="208.3" width="7.2" height="3.5" fill="#dde9f6" stroke="#a6cbee" stroke-width="1"/>
<rect x="182.75" y="208.6" width="7.2" height="3.2" fill="#d6f1e5" stroke="#6cd2a6" stroke-width="1"/>
<rect x="194.2" y="193.7" width="7.2" height="18.1" fill="#c9c9ea" stroke="#6060d6" stroke-width="1.2"/>
<rect x="205.65" y="193.3" width="7.2" height="18.5" fill="#cdcdcd" stroke="#777777" stroke-width="1"/>
<rect x="224.4" y="204.4" width="7.2" height="7.4" fill="#dde9f6" stroke="#a6cbee" stroke-width="1"/>
<rect x="235.85" y="205.6" width="7.2" height="6.2" fill="#d6f1e5" stroke="#6cd2a6" stroke-width="1"/>
<rect x="247.3" y="163.8" width="7.2" height="48" fill="#c9c9ea" stroke="#6060d6" stroke-width="1.2"/>
<rect x="258.75" y="162.8" width="7.2" height="49" fill="#cdcdcd" stroke="#777777" stroke-width="1"/>
<circle cx="172.5" cy="207.1" r="1.25" fill="#fff" stroke="#444" stroke-width="0.6"/>
<circle cx="172.7" cy="209.6" r="1.25" fill="#fff" stroke="#444" stroke-width="0.6"/>
<circle cx="176.7" cy="209.3" r="1.25" fill="#fff" stroke="#444" stroke-width="0.6"/>
<circle cx="183.95" cy="209.4" r="1.25" fill="#fff" stroke="#444" stroke-width="0.6"/>
<circle cx="186.35" cy="208.4" r="1.25" fill="#fff" stroke="#444" stroke-width="0.6"/>
<circle cx="188.75" cy="208" r="1.25" fill="#fff" stroke="#444" stroke-width="0.6"/>
<circle cx="195.6" cy="193.7" r="1.25" fill="#fff" stroke="#444" stroke-width="0.6"/>
<circle cx="197.8" cy="193.3" r="1.25" fill="#fff" stroke="#444" stroke-width="0.6"/>
<circle cx="200" cy="193.7" r="1.25" fill="#fff" stroke="#444" stroke-width="0.6"/>
<circle cx="206.85" cy="192.5" r="1.25" fill="#fff" stroke="#444" stroke-width="0.6"/>
<circle cx="206.85" cy="195.5" r="1.25" fill="#fff" stroke="#444" stroke-width="0.6"/>
<circle cx="211.65" cy="193.9" r="1.25" fill="#fff" stroke="#444" stroke-width="0.6"/>
<circle cx="225.8" cy="204.4" r="1.25" fill="#fff" stroke="#444" stroke-width="0.6"/>
<circle cx="228" cy="204" r="1.25" fill="#fff" stroke="#444" stroke-width="0.6"/>
<circle cx="230.2" cy="204.4" r="1.25" fill="#fff" stroke="#444" stroke-width="0.6"/>
<circle cx="237.25" cy="205.6" r="1.25" fill="#fff" stroke="#444" stroke-width="0.6"/>
<circle cx="239.45" cy="205.2" r="1.25" fill="#fff" stroke="#444" stroke-width="0.6"/>
<circle cx="241.65" cy="205.6" r="1.25" fill="#fff" stroke="#444" stroke-width="0.6"/>
<circle cx="248.7" cy="163.8" r="1.25" fill="#fff" stroke="#444" stroke-width="0.6"/>
<circle cx="250.9" cy="163.4" r="1.25" fill="#fff" stroke="#444" stroke-width="0.6"/>
<circle cx="253.1" cy="163.8" r="1.25" fill="#fff" stroke="#444" stroke-width="0.6"/>
<circle cx="260.15" cy="162.8" r="1.25" fill="#fff" stroke="#444" stroke-width="0.6"/>
<circle cx="262.35" cy="162.4" r="1.25" fill="#fff" stroke="#444" stroke-width="0.6"/>
<circle cx="264.55" cy="162.8" r="1.25" fill="#fff" stroke="#444" stroke-width="0.6"/>
<polyline points="174.9,204.3 174.9,180.6 186.35,180.6 186.35,204.5" fill="none" stroke="#a8a8a8" stroke-width="0.9"/>
<text x="180.62" y="177.7" font-size="5.9" text-anchor="middle" font-weight="normal" fill="#111" stroke="#111" stroke-width="0.18" >ns</text>
<polyline points="174.9,166.8 174.9,162.8 197.8,162.8 197.8,190.8" fill="none" stroke="#a8a8a8" stroke-width="0.9"/>
<circle cx="181.8" cy="159.3" r="1.18" fill="#000"/>
<circle cx="186.35" cy="159.3" r="1.18" fill="#000"/>
<circle cx="190.9" cy="159.3" r="1.18" fill="#000"/>
<polyline points="174.9,153.2 174.9,149 209.25,149 209.25,187.9" fill="none" stroke="#a8a8a8" stroke-width="0.9"/>
<circle cx="185.25" cy="145.1" r="1.18" fill="#000"/>
<circle cx="189.8" cy="145.1" r="1.18" fill="#000"/>
<circle cx="194.35" cy="145.1" r="1.18" fill="#000"/>
<circle cx="198.9" cy="145.1" r="1.18" fill="#000"/>
<polyline points="228,201.4 228,180.6 239.45,180.6 239.45,201.6" fill="none" stroke="#a8a8a8" stroke-width="0.9"/>
<text x="233.72" y="177.7" font-size="5.9" text-anchor="middle" font-weight="normal" fill="#111" stroke="#111" stroke-width="0.18" >ns</text>
<polyline points="228,163.2 228,159 250.9,159 250.9,160.9" fill="none" stroke="#a8a8a8" stroke-width="0.9"/>
<circle cx="234.9" cy="154.2" r="1.18" fill="#000"/>
<circle cx="239.45" cy="154.2" r="1.18" fill="#000"/>
<circle cx="244" cy="154.2" r="1.18" fill="#000"/>
<polyline points="228,153.2 228,149 262.35,149 262.35,158" fill="none" stroke="#a8a8a8" stroke-width="0.9"/>
<circle cx="238.35" cy="145.1" r="1.18" fill="#000"/>
<circle cx="242.9" cy="145.1" r="1.18" fill="#000"/>
<circle cx="247.45" cy="145.1" r="1.18" fill="#000"/>
<circle cx="252" cy="145.1" r="1.18" fill="#000"/>
<text x="192.08" y="222.5" font-size="6.6" text-anchor="middle" font-weight="normal" fill="#111" stroke="#111" stroke-width="0.18" >400 PP/cell</text>
<text x="245.17" y="222.5" font-size="6.6" text-anchor="middle" font-weight="normal" fill="#111" stroke="#111" stroke-width="0.18" >1600 PP/cell</text>
<line x1="170.6" y1="227.5" x2="213.55" y2="227.5" stroke="#666" stroke-width="1" />
<line x1="223.7" y1="227.5" x2="266.65" y2="227.5" stroke="#666" stroke-width="1" />
<text x="279.8" y="129.6" font-size="10.5" text-anchor="start" font-weight="bold" fill="#000" >E</text>
<text x="357.4" y="133.6" font-size="6.3" text-anchor="middle" font-weight="normal" fill="#111" stroke="#111" stroke-width="0.18" >Caco-2</text>
<line x1="305.6" y1="143.6" x2="305.6" y2="212.5" stroke="#222" stroke-width="1" />
<line x1="302.8" y1="212" x2="305.6" y2="212" stroke="#222" stroke-width="0.9" />
<text x="302" y="214.3" font-size="6.4" text-anchor="end" font-weight="normal" fill="#111" stroke="#111" stroke-width="0.18" >0</text>
<line x1="304.2" y1="208.6" x2="305.6" y2="208.6" stroke="#333" stroke-width="0.7" />
<line x1="304.2" y1="205.21" x2="305.6" y2="205.21" stroke="#333" stroke-width="0.7" />
<line x1="304.2" y1="201.81" x2="305.6" y2="201.81" stroke="#333" stroke-width="0.7" />
<line x1="304.2" y1="198.42" x2="305.6" y2="198.42" stroke="#333" stroke-width="0.7" />
<line x1="302.8" y1="195.03" x2="305.6" y2="195.03" stroke="#222" stroke-width="0.9" />
<text x="302" y="197.33" font-size="6.4" text-anchor="end" font-weight="normal" fill="#111" stroke="#111" stroke-width="0.18" >20</text>
<line x1="304.2" y1="191.63" x2="305.6" y2="191.63" stroke="#333" stroke-width="0.7" />
<line x1="304.2" y1="188.24" x2="305.6" y2="188.24" stroke="#333" stroke-width="0.7" />
<line x1="304.2" y1="184.84" x2="305.6" y2="184.84" stroke="#333" stroke-width="0.7" />
<line x1="304.2" y1="181.44" x2="305.6" y2="181.44" stroke="#333" stroke-width="0.7" />
<line x1="302.8" y1="178.05" x2="305.6" y2="178.05" stroke="#222" stroke-width="0.9" />
<text x="302" y="180.35" font-size="6.4" text-anchor="end" font-weight="normal" fill="#111" stroke="#111" stroke-width="0.18" >40</text>
<line x1="304.2" y1="174.66" x2="305.6" y2="174.66" stroke="#333" stroke-width="0.7" />
<line x1="304.2" y1="171.26" x2="305.6" y2="171.26" stroke="#333" stroke-width="0.7" />
<line x1="304.2" y1="167.87" x2="305.6" y2="167.87" stroke="#333" stroke-width="0.7" />
<line x1="304.2" y1="164.47" x2="305.6" y2="164.47" stroke="#333" stroke-width="0.7" />
<line x1="302.8" y1="161.07" x2="305.6" y2="161.07" stroke="#222" stroke-width="0.9" />
<text x="302" y="163.38" font-size="6.4" text-anchor="end" font-weight="normal" fill="#111" stroke="#111" stroke-width="0.18" >60</text>
<line x1="304.2" y1="157.68" x2="305.6" y2="157.68" stroke="#333" stroke-width="0.7" />
<line x1="304.2" y1="154.28" x2="305.6" y2="154.28" stroke="#333" stroke-width="0.7" />
<line x1="304.2" y1="150.89" x2="305.6" y2="150.89" stroke="#333" stroke-width="0.7" />
<line x1="304.2" y1="147.49" x2="305.6" y2="147.49" stroke="#333" stroke-width="0.7" />
<line x1="302.8" y1="144.1" x2="305.6" y2="144.1" stroke="#222" stroke-width="0.9" />
<text x="302" y="146.4" font-size="6.4" text-anchor="end" font-weight="normal" fill="#111" stroke="#111" stroke-width="0.18" >80</text>
<text transform="translate(291,177.65) rotate(-90)" font-size="6.5" text-anchor="middle" fill="#111" stroke="#111" stroke-width="0.18">GFP<tspan font-size="4.8" dy="-2.6">+</tspan><tspan dy="2.6"> cells (%)</tspan></text>
<line x1="305.1" y1="212" x2="407.6" y2="212" stroke="#222" stroke-width="1" />
<rect x="310.2" y="203.7" width="7.2" height="8.1" fill="#dde9f6" stroke="#a6cbee" stroke-width="1"/>
<rect x="321.5" y="202.9" width="7.2" height="8.9" fill="#d6f1e5" stroke="#6cd2a6" stroke-width="1"/>
<rect x="332.8" y="171.5" width="7.2" height="40.3" fill="#c9c9ea" stroke="#6060d6" stroke-width="1.2"/>
<rect x="344.1" y="174" width="7.2" height="37.8" fill="#cdcdcd" stroke="#777777" stroke-width="1"/>
<rect x="363.4" y="197.9" width="7.2" height="13.9" fill="#dde9f6" stroke="#a6cbee" stroke-width="1"/>
<rect x="374.7" y="196.5" width="7.2" height="15.3" fill="#d6f1e5" stroke="#6cd2a6" stroke-width="1"/>
<rect x="386" y="159.6" width="7.2" height="52.2" fill="#c9c9ea" stroke="#6060d6" stroke-width="1.2"/>
<rect x="397.3" y="159.6" width="7.2" height="52.2" fill="#cdcdcd" stroke="#777777" stroke-width="1"/>
<circle cx="311.6" cy="203.7" r="1.25" fill="#fff" stroke="#444" stroke-width="0.6"/>
<circle cx="313.8" cy="203.3" r="1.25" fill="#fff" stroke="#444" stroke-width="0.6"/>
<circle cx="316" cy="203.7" r="1.25" fill="#fff" stroke="#444" stroke-width="0.6"/>
<circle cx="322.9" cy="202.9" r="1.25" fill="#fff" stroke="#444" stroke-width="0.6"/>
<circle cx="325.1" cy="202.5" r="1.25" fill="#fff" stroke="#444" stroke-width="0.6"/>
<circle cx="327.3" cy="202.9" r="1.25" fill="#fff" stroke="#444" stroke-width="0.6"/>
<circle cx="334.2" cy="171.5" r="1.25" fill="#fff" stroke="#444" stroke-width="0.6"/>
<circle cx="336.4" cy="171.1" r="1.25" fill="#fff" stroke="#444" stroke-width="0.6"/>
<circle cx="338.6" cy="171.5" r="1.25" fill="#fff" stroke="#444" stroke-width="0.6"/>
<circle cx="345.3" cy="174.6" r="1.25" fill="#fff" stroke="#444" stroke-width="0.6"/>
<circle cx="347.7" cy="173.2" r="1.25" fill="#fff" stroke="#444" stroke-width="0.6"/>
<circle cx="350.1" cy="172.4" r="1.25" fill="#fff" stroke="#444" stroke-width="0.6"/>
<circle cx="367" cy="193.4" r="1.25" fill="#fff" stroke="#444" stroke-width="0.6"/>
<circle cx="364.6" cy="197.4" r="1.25" fill="#fff" stroke="#444" stroke-width="0.6"/>
<circle cx="369.4" cy="196.7" r="1.25" fill="#fff" stroke="#444" stroke-width="0.6"/>
<circle cx="375.9" cy="197.1" r="1.25" fill="#fff" stroke="#444" stroke-width="0.6"/>
<circle cx="378.3" cy="195.9" r="1.25" fill="#fff" stroke="#444" stroke-width="0.6"/>
<circle cx="380.7" cy="196.2" r="1.25" fill="#fff" stroke="#444" stroke-width="0.6"/>
<circle cx="387.2" cy="160.4" r="1.25" fill="#fff" stroke="#444" stroke-width="0.6"/>
<circle cx="389.6" cy="159.2" r="1.25" fill="#fff" stroke="#444" stroke-width="0.6"/>
<circle cx="392" cy="158.8" r="1.25" fill="#fff" stroke="#444" stroke-width="0.6"/>
<circle cx="398.7" cy="159.6" r="1.25" fill="#fff" stroke="#444" stroke-width="0.6"/>
<circle cx="400.9" cy="159.2" r="1.25" fill="#fff" stroke="#444" stroke-width="0.6"/>
<circle cx="403.1" cy="159.6" r="1.25" fill="#fff" stroke="#444" stroke-width="0.6"/>
<polyline points="313.8,199.4 313.8,179.2 325.1,179.2 325.1,199.4" fill="none" stroke="#a8a8a8" stroke-width="0.9"/>
<text x="319.45" y="176.8" font-size="5.9" text-anchor="middle" font-weight="normal" fill="#111" stroke="#111" stroke-width="0.18" >ns</text>
<polyline points="313.8,159.1 313.8,154.7 336.4,154.7 336.4,166.7" fill="none" stroke="#a8a8a8" stroke-width="0.9"/>
<circle cx="318.28" cy="150.3" r="1.18" fill="#000"/>
<circle cx="322.83" cy="150.3" r="1.18" fill="#000"/>
<circle cx="327.38" cy="150.3" r="1.18" fill="#000"/>
<circle cx="331.93" cy="150.3" r="1.18" fill="#000"/>
<polyline points="313.8,148.9 313.8,144.5 347.7,144.5 347.7,168.6" fill="none" stroke="#a8a8a8" stroke-width="0.9"/>
<circle cx="323.93" cy="140.7" r="1.18" fill="#000"/>
<circle cx="328.48" cy="140.7" r="1.18" fill="#000"/>
<circle cx="333.03" cy="140.7" r="1.18" fill="#000"/>
<circle cx="337.57" cy="140.7" r="1.18" fill="#000"/>
<polyline points="367,193.7 367,179.2 378.3,179.2 378.3,193.7" fill="none" stroke="#a8a8a8" stroke-width="0.9"/>
<text x="372.65" y="176.8" font-size="5.9" text-anchor="middle" font-weight="normal" fill="#111" stroke="#111" stroke-width="0.18" >ns</text>
<polyline points="367,159.1 367,154.7 389.6,154.7 389.6,156.1" fill="none" stroke="#a8a8a8" stroke-width="0.9"/>
<circle cx="371.48" cy="150.3" r="1.18" fill="#000"/>
<circle cx="376.03" cy="150.3" r="1.18" fill="#000"/>
<circle cx="380.58" cy="150.3" r="1.18" fill="#000"/>
<circle cx="385.12" cy="150.3" r="1.18" fill="#000"/>
<polyline points="367,148.9 367,144.5 400.9,144.5 400.9,156.1" fill="none" stroke="#a8a8a8" stroke-width="0.9"/>
<circle cx="377.12" cy="140.7" r="1.18" fill="#000"/>
<circle cx="381.68" cy="140.7" r="1.18" fill="#000"/>
<circle cx="386.23" cy="140.7" r="1.18" fill="#000"/>
<circle cx="390.77" cy="140.7" r="1.18" fill="#000"/>
<text x="330.75" y="222.5" font-size="6.6" text-anchor="middle" font-weight="normal" fill="#111" stroke="#111" stroke-width="0.18" >1600 PP/cell</text>
<text x="383.95" y="222.5" font-size="6.6" text-anchor="middle" font-weight="normal" fill="#111" stroke="#111" stroke-width="0.18" >3200 PP/cell</text>
<line x1="309.5" y1="227.5" x2="352" y2="227.5" stroke="#666" stroke-width="1" />
<line x1="362.7" y1="227.5" x2="405.2" y2="227.5" stroke="#666" stroke-width="1" />
<text x="418.7" y="129.6" font-size="10.5" text-anchor="start" font-weight="bold" fill="#000" >F</text>
<text x="496" y="133.6" font-size="6.3" text-anchor="middle" font-weight="normal" fill="#111" stroke="#111" stroke-width="0.18" >HeLa</text>
<line x1="444.8" y1="143.6" x2="444.8" y2="212.5" stroke="#222" stroke-width="1" />
<line x1="442" y1="212" x2="444.8" y2="212" stroke="#222" stroke-width="0.9" />
<text x="441.2" y="214.3" font-size="6.4" text-anchor="end" font-weight="normal" fill="#111" stroke="#111" stroke-width="0.18" >0</text>
<line x1="443.4" y1="207.47" x2="444.8" y2="207.47" stroke="#333" stroke-width="0.7" />
<line x1="443.4" y1="202.95" x2="444.8" y2="202.95" stroke="#333" stroke-width="0.7" />
<line x1="443.4" y1="198.42" x2="444.8" y2="198.42" stroke="#333" stroke-width="0.7" />
<line x1="443.4" y1="193.89" x2="444.8" y2="193.89" stroke="#333" stroke-width="0.7" />
<line x1="442" y1="189.37" x2="444.8" y2="189.37" stroke="#222" stroke-width="0.9" />
<text x="441.2" y="191.67" font-size="6.4" text-anchor="end" font-weight="normal" fill="#111" stroke="#111" stroke-width="0.18" >5</text>
<line x1="443.4" y1="184.84" x2="444.8" y2="184.84" stroke="#333" stroke-width="0.7" />
<line x1="443.4" y1="180.31" x2="444.8" y2="180.31" stroke="#333" stroke-width="0.7" />
<line x1="443.4" y1="175.79" x2="444.8" y2="175.79" stroke="#333" stroke-width="0.7" />
<line x1="443.4" y1="171.26" x2="444.8" y2="171.26" stroke="#333" stroke-width="0.7" />
<line x1="442" y1="166.73" x2="444.8" y2="166.73" stroke="#222" stroke-width="0.9" />
<text x="441.2" y="169.03" font-size="6.4" text-anchor="end" font-weight="normal" fill="#111" stroke="#111" stroke-width="0.18" >10</text>
<line x1="443.4" y1="162.21" x2="444.8" y2="162.21" stroke="#333" stroke-width="0.7" />
<line x1="443.4" y1="157.68" x2="444.8" y2="157.68" stroke="#333" stroke-width="0.7" />
<line x1="443.4" y1="153.15" x2="444.8" y2="153.15" stroke="#333" stroke-width="0.7" />
<line x1="443.4" y1="148.63" x2="444.8" y2="148.63" stroke="#333" stroke-width="0.7" />
<line x1="442" y1="144.1" x2="444.8" y2="144.1" stroke="#222" stroke-width="0.9" />
<text x="441.2" y="146.4" font-size="6.4" text-anchor="end" font-weight="normal" fill="#111" stroke="#111" stroke-width="0.18" >15</text>
<text transform="translate(429.7,177.65) rotate(-90)" font-size="6.5" text-anchor="middle" fill="#111" stroke="#111" stroke-width="0.18">GFP<tspan font-size="4.8" dy="-2.6">+</tspan><tspan dy="2.6"> cells (%)</tspan></text>
<line x1="444.3" y1="212" x2="546.49" y2="212" stroke="#222" stroke-width="1" />
<rect x="448.8" y="200.4" width="7.2" height="11.4" fill="#dde9f6" stroke="#a6cbee" stroke-width="1"/>
<rect x="460.13" y="201" width="7.2" height="10.8" fill="#d6f1e5" stroke="#6cd2a6" stroke-width="1"/>
<rect x="471.46" y="185" width="7.2" height="26.8" fill="#c9c9ea" stroke="#6060d6" stroke-width="1.2"/>
<rect x="482.79" y="179.8" width="7.2" height="32" fill="#cdcdcd" stroke="#777777" stroke-width="1"/>
<rect x="502.2" y="190.8" width="7.2" height="21" fill="#dde9f6" stroke="#a6cbee" stroke-width="1"/>
<rect x="513.53" y="190.8" width="7.2" height="21" fill="#d6f1e5" stroke="#6cd2a6" stroke-width="1"/>
<rect x="524.86" y="168.6" width="7.2" height="43.2" fill="#c9c9ea" stroke="#6060d6" stroke-width="1.2"/>
<rect x="536.19" y="161.9" width="7.2" height="49.9" fill="#cdcdcd" stroke="#777777" stroke-width="1"/>
<circle cx="450" cy="201" r="1.25" fill="#fff" stroke="#444" stroke-width="0.6"/>
<circle cx="452.4" cy="200" r="1.25" fill="#fff" stroke="#444" stroke-width="0.6"/>
<circle cx="454.8" cy="199.8" r="1.25" fill="#fff" stroke="#444" stroke-width="0.6"/>
<circle cx="461.33" cy="201.8" r="1.25" fill="#fff" stroke="#444" stroke-width="0.6"/>
<circle cx="463.73" cy="200.6" r="1.25" fill="#fff" stroke="#444" stroke-width="0.6"/>
<circle cx="466.13" cy="200.2" r="1.25" fill="#fff" stroke="#444" stroke-width="0.6"/>
<circle cx="472.66" cy="184" r="1.25" fill="#fff" stroke="#444" stroke-width="0.6"/>
<circle cx="475.06" cy="185" r="1.25" fill="#fff" stroke="#444" stroke-width="0.6"/>
<circle cx="477.46" cy="186" r="1.25" fill="#fff" stroke="#444" stroke-width="0.6"/>
<circle cx="484.19" cy="179.8" r="1.25" fill="#fff" stroke="#444" stroke-width="0.6"/>
<circle cx="486.39" cy="179.4" r="1.25" fill="#fff" stroke="#444" stroke-width="0.6"/>
<circle cx="488.59" cy="179.8" r="1.25" fill="#fff" stroke="#444" stroke-width="0.6"/>
<circle cx="503.6" cy="190.8" r="1.25" fill="#fff" stroke="#444" stroke-width="0.6"/>
<circle cx="505.8" cy="190.4" r="1.25" fill="#fff" stroke="#444" stroke-width="0.6"/>
<circle cx="508" cy="190.8" r="1.25" fill="#fff" stroke="#444" stroke-width="0.6"/>
<circle cx="514.93" cy="190.8" r="1.25" fill="#fff" stroke="#444" stroke-width="0.6"/>
<circle cx="517.13" cy="190.4" r="1.25" fill="#fff" stroke="#444" stroke-width="0.6"/>
<circle cx="519.33" cy="190.8" r="1.25" fill="#fff" stroke="#444" stroke-width="0.6"/>
<circle cx="526.06" cy="168.6" r="1.25" fill="#fff" stroke="#444" stroke-width="0.6"/>
<circle cx="528.46" cy="166.4" r="1.25" fill="#fff" stroke="#444" stroke-width="0.6"/>
<circle cx="530.86" cy="169.4" r="1.25" fill="#fff" stroke="#444" stroke-width="0.6"/>
<circle cx="537.59" cy="161.9" r="1.25" fill="#fff" stroke="#444" stroke-width="0.6"/>
<circle cx="539.79" cy="161.5" r="1.25" fill="#fff" stroke="#444" stroke-width="0.6"/>
<circle cx="541.99" cy="161.9" r="1.25" fill="#fff" stroke="#444" stroke-width="0.6"/>
<polyline points="452.4,196.5 452.4,179.8 463.73,179.8 463.73,197.1" fill="none" stroke="#a8a8a8" stroke-width="0.9"/>
<text x="458.07" y="176.8" font-size="5.9" text-anchor="middle" font-weight="normal" fill="#111" stroke="#111" stroke-width="0.18" >ns</text>
<polyline points="452.4,161.1 452.4,156.7 475.06,156.7 475.06,181.1" fill="none" stroke="#a8a8a8" stroke-width="0.9"/>
<circle cx="456.91" cy="152.8" r="1.18" fill="#000"/>
<circle cx="461.46" cy="152.8" r="1.18" fill="#000"/>
<circle cx="466.01" cy="152.8" r="1.18" fill="#000"/>
<circle cx="470.56" cy="152.8" r="1.18" fill="#000"/>
<polyline points="452.4,152.2 452.4,147.8 486.39,147.8 486.39,176.3" fill="none" stroke="#a8a8a8" stroke-width="0.9"/>
<circle cx="462.57" cy="143.9" r="1.18" fill="#000"/>
<circle cx="467.12" cy="143.9" r="1.18" fill="#000"/>
<circle cx="471.67" cy="143.9" r="1.18" fill="#000"/>
<circle cx="476.22" cy="143.9" r="1.18" fill="#000"/>
<polyline points="505.8,187.9 505.8,179.8 517.13,179.8 517.13,187.9" fill="none" stroke="#a8a8a8" stroke-width="0.9"/>
<text x="511.47" y="176.8" font-size="5.9" text-anchor="middle" font-weight="normal" fill="#111" stroke="#111" stroke-width="0.18" >ns</text>
<polyline points="505.8,161.1 505.8,156.7 528.46,156.7 528.46,162.8" fill="none" stroke="#a8a8a8" stroke-width="0.9"/>
<circle cx="510.31" cy="152.8" r="1.18" fill="#000"/>
<circle cx="514.86" cy="152.8" r="1.18" fill="#000"/>
<circle cx="519.4" cy="152.8" r="1.18" fill="#000"/>
<circle cx="523.96" cy="152.8" r="1.18" fill="#000"/>
<polyline points="505.8,152.2 505.8,147.8 539.79,147.8 539.79,158" fill="none" stroke="#a8a8a8" stroke-width="0.9"/>
<circle cx="515.97" cy="143.9" r="1.18" fill="#000"/>
<circle cx="520.52" cy="143.9" r="1.18" fill="#000"/>
<circle cx="525.07" cy="143.9" r="1.18" fill="#000"/>
<circle cx="529.62" cy="143.9" r="1.18" fill="#000"/>
<text x="469.4" y="222.5" font-size="6.6" text-anchor="middle" font-weight="normal" fill="#111" stroke="#111" stroke-width="0.18" >800 PP/cell</text>
<text x="522.79" y="222.5" font-size="6.6" text-anchor="middle" font-weight="normal" fill="#111" stroke="#111" stroke-width="0.18" >1600 PP/cell</text>
<line x1="448.1" y1="227.5" x2="490.69" y2="227.5" stroke="#666" stroke-width="1" />
<line x1="501.5" y1="227.5" x2="544.09" y2="227.5" stroke="#666" stroke-width="1" />
<text x="2.2" y="252.2" font-size="10.5" text-anchor="start" font-weight="bold" fill="#000" >G</text>
<text x="80.2" y="255.9" font-size="6.3" text-anchor="middle" font-weight="normal" fill="#111" stroke="#111" stroke-width="0.18" >Human TSC</text>
<line x1="28.9" y1="266.4" x2="28.9" y2="334.8" stroke="#222" stroke-width="1" />
<line x1="26.1" y1="334.3" x2="28.9" y2="334.3" stroke="#222" stroke-width="0.9" />
<text x="25.3" y="336.6" font-size="6.4" text-anchor="end" font-weight="normal" fill="#111" stroke="#111" stroke-width="0.18" >0</text>
<line x1="27.5" y1="330.93" x2="28.9" y2="330.93" stroke="#333" stroke-width="0.7" />
<line x1="27.5" y1="327.56" x2="28.9" y2="327.56" stroke="#333" stroke-width="0.7" />
<line x1="27.5" y1="324.19" x2="28.9" y2="324.19" stroke="#333" stroke-width="0.7" />
<line x1="27.5" y1="320.82" x2="28.9" y2="320.82" stroke="#333" stroke-width="0.7" />
<line x1="26.1" y1="317.45" x2="28.9" y2="317.45" stroke="#222" stroke-width="0.9" />
<text x="25.3" y="319.75" font-size="6.4" text-anchor="end" font-weight="normal" fill="#111" stroke="#111" stroke-width="0.18" >15</text>
<line x1="27.5" y1="314.08" x2="28.9" y2="314.08" stroke="#333" stroke-width="0.7" />
<line x1="27.5" y1="310.71" x2="28.9" y2="310.71" stroke="#333" stroke-width="0.7" />
<line x1="27.5" y1="307.34" x2="28.9" y2="307.34" stroke="#333" stroke-width="0.7" />
<line x1="27.5" y1="303.97" x2="28.9" y2="303.97" stroke="#333" stroke-width="0.7" />
<line x1="26.1" y1="300.6" x2="28.9" y2="300.6" stroke="#222" stroke-width="0.9" />
<text x="25.3" y="302.9" font-size="6.4" text-anchor="end" font-weight="normal" fill="#111" stroke="#111" stroke-width="0.18" >30</text>
<line x1="27.5" y1="297.23" x2="28.9" y2="297.23" stroke="#333" stroke-width="0.7" />
<line x1="27.5" y1="293.86" x2="28.9" y2="293.86" stroke="#333" stroke-width="0.7" />
<line x1="27.5" y1="290.49" x2="28.9" y2="290.49" stroke="#333" stroke-width="0.7" />
<line x1="27.5" y1="287.12" x2="28.9" y2="287.12" stroke="#333" stroke-width="0.7" />
<line x1="26.1" y1="283.75" x2="28.9" y2="283.75" stroke="#222" stroke-width="0.9" />
<text x="25.3" y="286.05" font-size="6.4" text-anchor="end" font-weight="normal" fill="#111" stroke="#111" stroke-width="0.18" >45</text>
<line x1="27.5" y1="280.38" x2="28.9" y2="280.38" stroke="#333" stroke-width="0.7" />
<line x1="27.5" y1="277.01" x2="28.9" y2="277.01" stroke="#333" stroke-width="0.7" />
<line x1="27.5" y1="273.64" x2="28.9" y2="273.64" stroke="#333" stroke-width="0.7" />
<line x1="27.5" y1="270.27" x2="28.9" y2="270.27" stroke="#333" stroke-width="0.7" />
<line x1="26.1" y1="266.9" x2="28.9" y2="266.9" stroke="#222" stroke-width="0.9" />
<text x="25.3" y="269.2" font-size="6.4" text-anchor="end" font-weight="normal" fill="#111" stroke="#111" stroke-width="0.18" >60</text>
<text transform="translate(13.6,300.2) rotate(-90)" font-size="6.5" text-anchor="middle" fill="#111" stroke="#111" stroke-width="0.18">GFP<tspan font-size="4.8" dy="-2.6">+</tspan><tspan dy="2.6"> cells (%)</tspan></text>
<line x1="28.4" y1="334.3" x2="129.75" y2="334.3" stroke="#222" stroke-width="1" />
<rect x="33" y="315.1" width="7.2" height="19" fill="#dde9f6" stroke="#a6cbee" stroke-width="1"/>
<rect x="44.35" y="317" width="7.2" height="17.1" fill="#d6f1e5" stroke="#6cd2a6" stroke-width="1"/>
<rect x="55.7" y="304.7" width="7.2" height="29.4" fill="#c9c9ea" stroke="#6060d6" stroke-width="1.2"/>
<rect x="67.05" y="303.6" width="7.2" height="30.5" fill="#cdcdcd" stroke="#777777" stroke-width="1"/>
<rect x="85.4" y="302.2" width="7.2" height="31.9" fill="#dde9f6" stroke="#a6cbee" stroke-width="1"/>
<rect x="96.75" y="302.2" width="7.2" height="31.9" fill="#d6f1e5" stroke="#6cd2a6" stroke-width="1"/>
<rect x="108.1" y="283.9" width="7.2" height="50.2" fill="#c9c9ea" stroke="#6060d6" stroke-width="1.2"/>
<rect x="119.45" y="283.9" width="7.2" height="50.2" fill="#cdcdcd" stroke="#777777" stroke-width="1"/>
<circle cx="34.2" cy="314.3" r="1.25" fill="#fff" stroke="#444" stroke-width="0.6"/>
<circle cx="34.2" cy="316.9" r="1.25" fill="#fff" stroke="#444" stroke-width="0.6"/>
<circle cx="39" cy="315.7" r="1.25" fill="#fff" stroke="#444" stroke-width="0.6"/>
<circle cx="45.75" cy="317" r="1.25" fill="#fff" stroke="#444" stroke-width="0.6"/>
<circle cx="47.95" cy="316.6" r="1.25" fill="#fff" stroke="#444" stroke-width="0.6"/>
<circle cx="50.15" cy="317" r="1.25" fill="#fff" stroke="#444" stroke-width="0.6"/>
<circle cx="57.1" cy="304.7" r="1.25" fill="#fff" stroke="#444" stroke-width="0.6"/>
<circle cx="59.3" cy="304.3" r="1.25" fill="#fff" stroke="#444" stroke-width="0.6"/>
<circle cx="61.5" cy="304.7" r="1.25" fill="#fff" stroke="#444" stroke-width="0.6"/>
<circle cx="68.45" cy="303.6" r="1.25" fill="#fff" stroke="#444" stroke-width="0.6"/>
<circle cx="70.65" cy="303.2" r="1.25" fill="#fff" stroke="#444" stroke-width="0.6"/>
<circle cx="72.85" cy="303.6" r="1.25" fill="#fff" stroke="#444" stroke-width="0.6"/>
<circle cx="86.6" cy="301.8" r="1.25" fill="#fff" stroke="#444" stroke-width="0.6"/>
<circle cx="89" cy="305.8" r="1.25" fill="#fff" stroke="#444" stroke-width="0.6"/>
<circle cx="91.4" cy="303.2" r="1.25" fill="#fff" stroke="#444" stroke-width="0.6"/>
<circle cx="97.95" cy="301.8" r="1.25" fill="#fff" stroke="#444" stroke-width="0.6"/>
<circle cx="100.35" cy="304.6" r="1.25" fill="#fff" stroke="#444" stroke-width="0.6"/>
<circle cx="102.75" cy="302" r="1.25" fill="#fff" stroke="#444" stroke-width="0.6"/>
<circle cx="109.3" cy="283.3" r="1.25" fill="#fff" stroke="#444" stroke-width="0.6"/>
<circle cx="114.1" cy="283.5" r="1.25" fill="#fff" stroke="#444" stroke-width="0.6"/>
<circle cx="111.7" cy="287.5" r="1.25" fill="#fff" stroke="#444" stroke-width="0.6"/>
<circle cx="120.85" cy="283.9" r="1.25" fill="#fff" stroke="#444" stroke-width="0.6"/>
<circle cx="123.05" cy="283.5" r="1.25" fill="#fff" stroke="#444" stroke-width="0.6"/>
<circle cx="125.25" cy="283.9" r="1.25" fill="#fff" stroke="#444" stroke-width="0.6"/>
<polyline points="36.6,309.9 36.6,292.6 47.95,292.6 47.95,311.8" fill="none" stroke="#a8a8a8" stroke-width="0.9"/>
<text x="42.28" y="290.1" font-size="5.9" text-anchor="middle" font-weight="normal" fill="#111" stroke="#111" stroke-width="0.18" >ns</text>
<polyline points="36.6,283.5 36.6,279.1 59.3,279.1 59.3,298.4" fill="none" stroke="#a8a8a8" stroke-width="0.9"/>
<circle cx="41.12" cy="275.2" r="1.18" fill="#000"/>
<circle cx="45.67" cy="275.2" r="1.18" fill="#000"/>
<circle cx="50.23" cy="275.2" r="1.18" fill="#000"/>
<circle cx="54.77" cy="275.2" r="1.18" fill="#000"/>
<polyline points="36.6,271 36.6,266.6 70.65,266.6 70.65,297.4" fill="none" stroke="#a8a8a8" stroke-width="0.9"/>
<circle cx="46.8" cy="262.7" r="1.18" fill="#000"/>
<circle cx="51.35" cy="262.7" r="1.18" fill="#000"/>
<circle cx="55.9" cy="262.7" r="1.18" fill="#000"/>
<circle cx="60.45" cy="262.7" r="1.18" fill="#000"/>
<polyline points="89,298.4 89,292.6 100.35,292.6 100.35,298.4" fill="none" stroke="#a8a8a8" stroke-width="0.9"/>
<text x="94.67" y="290.1" font-size="5.9" text-anchor="middle" font-weight="normal" fill="#111" stroke="#111" stroke-width="0.18" >ns</text>
<polyline points="89,281 89,276.6 111.7,276.6 111.7,279.1" fill="none" stroke="#a8a8a8" stroke-width="0.9"/>
<circle cx="93.52" cy="272.7" r="1.18" fill="#000"/>
<circle cx="98.07" cy="272.7" r="1.18" fill="#000"/>
<circle cx="102.62" cy="272.7" r="1.18" fill="#000"/>
<circle cx="107.17" cy="272.7" r="1.18" fill="#000"/>
<polyline points="89,271 89,266.6 123.05,266.6 123.05,279.1" fill="none" stroke="#a8a8a8" stroke-width="0.9"/>
<circle cx="99.2" cy="262.7" r="1.18" fill="#000"/>
<circle cx="103.75" cy="262.7" r="1.18" fill="#000"/>
<circle cx="108.3" cy="262.7" r="1.18" fill="#000"/>
<circle cx="112.85" cy="262.7" r="1.18" fill="#000"/>
<text x="53.62" y="345.4" font-size="6.6" text-anchor="middle" font-weight="normal" fill="#111" stroke="#111" stroke-width="0.18" >400 PP/cell</text>
<text x="106.03" y="345.4" font-size="6.6" text-anchor="middle" font-weight="normal" fill="#111" stroke="#111" stroke-width="0.18" >800 PP/cell</text>
<line x1="32.3" y1="349.8" x2="74.95" y2="349.8" stroke="#666" stroke-width="1" />
<line x1="84.7" y1="349.8" x2="127.35" y2="349.8" stroke="#666" stroke-width="1" />
<text x="141.8" y="252.2" font-size="10.5" text-anchor="start" font-weight="bold" fill="#000" >H</text>
<text x="220.4" y="255.9" font-size="6.3" text-anchor="middle" font-weight="normal" fill="#111" stroke="#111" stroke-width="0.18" >Hep3B</text>
<line x1="169.9" y1="266.4" x2="169.9" y2="334.8" stroke="#222" stroke-width="1" />
<line x1="167.1" y1="334.3" x2="169.9" y2="334.3" stroke="#222" stroke-width="0.9" />
<text x="166.3" y="336.6" font-size="6.4" text-anchor="end" font-weight="normal" fill="#111" stroke="#111" stroke-width="0.18" >0</text>
<line x1="168.5" y1="331.6" x2="169.9" y2="331.6" stroke="#333" stroke-width="0.7" />
<line x1="168.5" y1="328.91" x2="169.9" y2="328.91" stroke="#333" stroke-width="0.7" />
<line x1="168.5" y1="326.21" x2="169.9" y2="326.21" stroke="#333" stroke-width="0.7" />
<line x1="168.5" y1="323.52" x2="169.9" y2="323.52" stroke="#333" stroke-width="0.7" />
<line x1="167.1" y1="320.82" x2="169.9" y2="320.82" stroke="#222" stroke-width="0.9" />
<text x="166.3" y="323.12" font-size="6.4" text-anchor="end" font-weight="normal" fill="#111" stroke="#111" stroke-width="0.18" >20</text>
<line x1="168.5" y1="318.12" x2="169.9" y2="318.12" stroke="#333" stroke-width="0.7" />
<line x1="168.5" y1="315.43" x2="169.9" y2="315.43" stroke="#333" stroke-width="0.7" />
<line x1="168.5" y1="312.73" x2="169.9" y2="312.73" stroke="#333" stroke-width="0.7" />
<line x1="168.5" y1="310.04" x2="169.9" y2="310.04" stroke="#333" stroke-width="0.7" />
<line x1="167.1" y1="307.34" x2="169.9" y2="307.34" stroke="#222" stroke-width="0.9" />
<text x="166.3" y="309.64" font-size="6.4" text-anchor="end" font-weight="normal" fill="#111" stroke="#111" stroke-width="0.18" >40</text>
<line x1="168.5" y1="304.64" x2="169.9" y2="304.64" stroke="#333" stroke-width="0.7" />
<line x1="168.5" y1="301.95" x2="169.9" y2="301.95" stroke="#333" stroke-width="0.7" />
<line x1="168.5" y1="299.25" x2="169.9" y2="299.25" stroke="#333" stroke-width="0.7" />
<line x1="168.5" y1="296.56" x2="169.9" y2="296.56" stroke="#333" stroke-width="0.7" />
<line x1="167.1" y1="293.86" x2="169.9" y2="293.86" stroke="#222" stroke-width="0.9" />
<text x="166.3" y="296.16" font-size="6.4" text-anchor="end" font-weight="normal" fill="#111" stroke="#111" stroke-width="0.18" >60</text>
<line x1="168.5" y1="291.16" x2="169.9" y2="291.16" stroke="#333" stroke-width="0.7" />
<line x1="168.5" y1="288.47" x2="169.9" y2="288.47" stroke="#333" stroke-width="0.7" />
<line x1="168.5" y1="285.77" x2="169.9" y2="285.77" stroke="#333" stroke-width="0.7" />
<line x1="168.5" y1="283.08" x2="169.9" y2="283.08" stroke="#333" stroke-width="0.7" />
<line x1="167.1" y1="280.38" x2="169.9" y2="280.38" stroke="#222" stroke-width="0.9" />
<text x="166.3" y="282.68" font-size="6.4" text-anchor="end" font-weight="normal" fill="#111" stroke="#111" stroke-width="0.18" >80</text>
<line x1="168.5" y1="277.68" x2="169.9" y2="277.68" stroke="#333" stroke-width="0.7" />
<line x1="168.5" y1="274.99" x2="169.9" y2="274.99" stroke="#333" stroke-width="0.7" />
<line x1="168.5" y1="272.29" x2="169.9" y2="272.29" stroke="#333" stroke-width="0.7" />
<line x1="168.5" y1="269.6" x2="169.9" y2="269.6" stroke="#333" stroke-width="0.7" />
<line x1="167.1" y1="266.9" x2="169.9" y2="266.9" stroke="#222" stroke-width="0.9" />
<text x="166.3" y="269.2" font-size="6.4" text-anchor="end" font-weight="normal" fill="#111" stroke="#111" stroke-width="0.18" >100</text>
<text transform="translate(151,300.2) rotate(-90)" font-size="6.5" text-anchor="middle" fill="#111" stroke="#111" stroke-width="0.18">GFP<tspan font-size="4.8" dy="-2.6">+</tspan><tspan dy="2.6"> cells (%)</tspan></text>
<line x1="169.4" y1="334.3" x2="268.89" y2="334.3" stroke="#222" stroke-width="1" />
<rect x="174.4" y="306.6" width="7.2" height="27.5" fill="#dde9f6" stroke="#a6cbee" stroke-width="1"/>
<rect x="185.43" y="305.5" width="7.2" height="28.6" fill="#d6f1e5" stroke="#6cd2a6" stroke-width="1"/>
<rect x="196.46" y="289.3" width="7.2" height="44.8" fill="#c9c9ea" stroke="#6060d6" stroke-width="1.2"/>
<rect x="207.49" y="288.1" width="7.2" height="46" fill="#cdcdcd" stroke="#777777" stroke-width="1"/>
<rect x="225.5" y="292.6" width="7.2" height="41.5" fill="#dde9f6" stroke="#a6cbee" stroke-width="1"/>
<rect x="236.53" y="290.6" width="7.2" height="43.5" fill="#d6f1e5" stroke="#6cd2a6" stroke-width="1"/>
<rect x="247.56" y="277.7" width="7.2" height="56.4" fill="#c9c9ea" stroke="#6060d6" stroke-width="1.2"/>
<rect x="258.59" y="277.7" width="7.2" height="56.4" fill="#cdcdcd" stroke="#777777" stroke-width="1"/>
<circle cx="175.8" cy="306.6" r="1.25" fill="#fff" stroke="#444" stroke-width="0.6"/>
<circle cx="178" cy="306.2" r="1.25" fill="#fff" stroke="#444" stroke-width="0.6"/>
<circle cx="180.2" cy="306.6" r="1.25" fill="#fff" stroke="#444" stroke-width="0.6"/>
<circle cx="186.83" cy="305.5" r="1.25" fill="#fff" stroke="#444" stroke-width="0.6"/>
<circle cx="189.03" cy="305.1" r="1.25" fill="#fff" stroke="#444" stroke-width="0.6"/>
<circle cx="191.23" cy="305.5" r="1.25" fill="#fff" stroke="#444" stroke-width="0.6"/>
<circle cx="197.86" cy="289.3" r="1.25" fill="#fff" stroke="#444" stroke-width="0.6"/>
<circle cx="200.06" cy="288.9" r="1.25" fill="#fff" stroke="#444" stroke-width="0.6"/>
<circle cx="202.26" cy="289.3" r="1.25" fill="#fff" stroke="#444" stroke-width="0.6"/>
<circle cx="208.89" cy="288.1" r="1.25" fill="#fff" stroke="#444" stroke-width="0.6"/>
<circle cx="211.09" cy="287.7" r="1.25" fill="#fff" stroke="#444" stroke-width="0.6"/>
<circle cx="213.29" cy="288.1" r="1.25" fill="#fff" stroke="#444" stroke-width="0.6"/>
<circle cx="226.7" cy="292" r="1.25" fill="#fff" stroke="#444" stroke-width="0.6"/>
<circle cx="231.5" cy="293" r="1.25" fill="#fff" stroke="#444" stroke-width="0.6"/>
<circle cx="228.5" cy="295.4" r="1.25" fill="#fff" stroke="#444" stroke-width="0.6"/>
<circle cx="237.73" cy="291.6" r="1.25" fill="#fff" stroke="#444" stroke-width="0.6"/>
<circle cx="240.13" cy="290" r="1.25" fill="#fff" stroke="#444" stroke-width="0.6"/>
<circle cx="242.53" cy="290.2" r="1.25" fill="#fff" stroke="#444" stroke-width="0.6"/>
<circle cx="248.96" cy="277.7" r="1.25" fill="#fff" stroke="#444" stroke-width="0.6"/>
<circle cx="251.16" cy="277.3" r="1.25" fill="#fff" stroke="#444" stroke-width="0.6"/>
<circle cx="253.36" cy="277.7" r="1.25" fill="#fff" stroke="#444" stroke-width="0.6"/>
<circle cx="259.99" cy="277.7" r="1.25" fill="#fff" stroke="#444" stroke-width="0.6"/>
<circle cx="262.19" cy="277.3" r="1.25" fill="#fff" stroke="#444" stroke-width="0.6"/>
<circle cx="264.39" cy="277.7" r="1.25" fill="#fff" stroke="#444" stroke-width="0.6"/>
<polyline points="178,303.2 178,290.6 189.03,290.6 189.03,302.2" fill="none" stroke="#a8a8a8" stroke-width="0.9"/>
<text x="183.51" y="287.4" font-size="5.9" text-anchor="middle" font-weight="normal" fill="#111" stroke="#111" stroke-width="0.18" >ns</text>
<polyline points="178,284.1 178,279.7 200.06,279.7 200.06,285.8" fill="none" stroke="#a8a8a8" stroke-width="0.9"/>
<circle cx="182.21" cy="275.8" r="1.18" fill="#000"/>
<circle cx="186.76" cy="275.8" r="1.18" fill="#000"/>
<circle cx="191.31" cy="275.8" r="1.18" fill="#000"/>
<circle cx="195.86" cy="275.8" r="1.18" fill="#000"/>
<polyline points="178,272.5 178,268.1 211.09,268.1 211.09,283.9" fill="none" stroke="#a8a8a8" stroke-width="0.9"/>
<circle cx="187.72" cy="264.2" r="1.18" fill="#000"/>
<circle cx="192.27" cy="264.2" r="1.18" fill="#000"/>
<circle cx="196.82" cy="264.2" r="1.18" fill="#000"/>
<circle cx="201.37" cy="264.2" r="1.18" fill="#000"/>
<polyline points="229.1,288.7 229.1,282.9 240.13,282.9 240.13,286.7" fill="none" stroke="#a8a8a8" stroke-width="0.9"/>
<text x="234.62" y="280.1" font-size="5.9" text-anchor="middle" font-weight="normal" fill="#111" stroke="#111" stroke-width="0.18" >ns</text>
<polyline points="229.1,276.4 229.1,272 251.16,272 251.16,274.3" fill="none" stroke="#a8a8a8" stroke-width="0.9"/>
<circle cx="233.31" cy="268.1" r="1.18" fill="#000"/>
<circle cx="237.86" cy="268.1" r="1.18" fill="#000"/>
<circle cx="242.41" cy="268.1" r="1.18" fill="#000"/>
<circle cx="246.96" cy="268.1" r="1.18" fill="#000"/>
<polyline points="229.1,267.5 229.1,263.1 262.19,263.1 262.19,273.3" fill="none" stroke="#a8a8a8" stroke-width="0.9"/>
<circle cx="238.82" cy="259.2" r="1.18" fill="#000"/>
<circle cx="243.37" cy="259.2" r="1.18" fill="#000"/>
<circle cx="247.92" cy="259.2" r="1.18" fill="#000"/>
<circle cx="252.47" cy="259.2" r="1.18" fill="#000"/>
<text x="194.54" y="345.4" font-size="6.6" text-anchor="middle" font-weight="normal" fill="#111" stroke="#111" stroke-width="0.18" >800 PP/cell</text>
<text x="245.64" y="345.4" font-size="6.6" text-anchor="middle" font-weight="normal" fill="#111" stroke="#111" stroke-width="0.18" >1600 PP/cell</text>
<line x1="173.7" y1="349.8" x2="215.39" y2="349.8" stroke="#666" stroke-width="1" />
<line x1="224.8" y1="349.8" x2="266.49" y2="349.8" stroke="#666" stroke-width="1" />
<text x="281.2" y="252.2" font-size="10.5" text-anchor="start" font-weight="bold" fill="#000" >I</text>
<text x="358.6" y="255.9" font-size="6.3" text-anchor="middle" font-weight="normal" fill="#111" stroke="#111" stroke-width="0.18" >Cynomolgus dermal fibroblast</text>
<line x1="306.5" y1="266.4" x2="306.5" y2="334.8" stroke="#222" stroke-width="1" />
<line x1="303.7" y1="334.3" x2="306.5" y2="334.3" stroke="#222" stroke-width="0.9" />
<text x="302.9" y="336.6" font-size="6.4" text-anchor="end" font-weight="normal" fill="#111" stroke="#111" stroke-width="0.18" >0.0</text>
<line x1="305.1" y1="329.81" x2="306.5" y2="329.81" stroke="#333" stroke-width="0.7" />
<line x1="305.1" y1="325.31" x2="306.5" y2="325.31" stroke="#333" stroke-width="0.7" />
<line x1="305.1" y1="320.82" x2="306.5" y2="320.82" stroke="#333" stroke-width="0.7" />
<line x1="305.1" y1="316.33" x2="306.5" y2="316.33" stroke="#333" stroke-width="0.7" />
<line x1="303.7" y1="311.83" x2="306.5" y2="311.83" stroke="#222" stroke-width="0.9" />
<text x="302.9" y="314.13" font-size="6.4" text-anchor="end" font-weight="normal" fill="#111" stroke="#111" stroke-width="0.18" >0.2</text>
<line x1="305.1" y1="307.34" x2="306.5" y2="307.34" stroke="#333" stroke-width="0.7" />
<line x1="305.1" y1="302.85" x2="306.5" y2="302.85" stroke="#333" stroke-width="0.7" />
<line x1="305.1" y1="298.35" x2="306.5" y2="298.35" stroke="#333" stroke-width="0.7" />
<line x1="305.1" y1="293.86" x2="306.5" y2="293.86" stroke="#333" stroke-width="0.7" />
<line x1="303.7" y1="289.37" x2="306.5" y2="289.37" stroke="#222" stroke-width="0.9" />
<text x="302.9" y="291.67" font-size="6.4" text-anchor="end" font-weight="normal" fill="#111" stroke="#111" stroke-width="0.18" >0.4</text>
<line x1="305.1" y1="284.87" x2="306.5" y2="284.87" stroke="#333" stroke-width="0.7" />
<line x1="305.1" y1="280.38" x2="306.5" y2="280.38" stroke="#333" stroke-width="0.7" />
<line x1="305.1" y1="275.89" x2="306.5" y2="275.89" stroke="#333" stroke-width="0.7" />
<line x1="305.1" y1="271.39" x2="306.5" y2="271.39" stroke="#333" stroke-width="0.7" />
<line x1="303.7" y1="266.9" x2="306.5" y2="266.9" stroke="#222" stroke-width="0.9" />
<text x="302.9" y="269.2" font-size="6.4" text-anchor="end" font-weight="normal" fill="#111" stroke="#111" stroke-width="0.18" >0.6</text>
<text transform="translate(290.2,300.2) rotate(-90)" font-size="6.5" text-anchor="middle" fill="#111" stroke="#111" stroke-width="0.18">GFP<tspan font-size="4.8" dy="-2.6">+</tspan><tspan dy="2.6"> cells (%)</tspan></text>
<line x1="306" y1="334.3" x2="407.99" y2="334.3" stroke="#222" stroke-width="1" />
<rect x="311.5" y="333.4" width="7.2" height="0.7" fill="#dde9f6" stroke="#a6cbee" stroke-width="1"/>
<rect x="322.83" y="333.7" width="7.2" height="0.4" fill="#d6f1e5" stroke="#6cd2a6" stroke-width="1"/>
<rect x="334.16" y="323.8" width="7.2" height="10.3" fill="#c9c9ea" stroke="#6060d6" stroke-width="1.2"/>
<rect x="345.49" y="324.7" width="7.2" height="9.4" fill="#cdcdcd" stroke="#777777" stroke-width="1"/>
<rect x="363.7" y="322.8" width="7.2" height="11.3" fill="#dde9f6" stroke="#a6cbee" stroke-width="1"/>
<rect x="375.03" y="328.2" width="7.2" height="5.9" fill="#d6f1e5" stroke="#6cd2a6" stroke-width="1"/>
<rect x="386.36" y="291.2" width="7.2" height="42.9" fill="#c9c9ea" stroke="#6060d6" stroke-width="1.2"/>
<rect x="397.69" y="290.3" width="7.2" height="43.8" fill="#cdcdcd" stroke="#777777" stroke-width="1"/>
<circle cx="312.7" cy="333.8" r="1.25" fill="#fff" stroke="#444" stroke-width="0.6"/>
<circle cx="315.1" cy="331.2" r="1.25" fill="#fff" stroke="#444" stroke-width="0.6"/>
<circle cx="317.5" cy="333.6" r="1.25" fill="#fff" stroke="#444" stroke-width="0.6"/>
<circle cx="324.03" cy="334.1" r="1.25" fill="#fff" stroke="#444" stroke-width="0.6"/>
<circle cx="326.43" cy="333.7" r="1.25" fill="#fff" stroke="#444" stroke-width="0.6"/>
<circle cx="328.83" cy="333.5" r="1.25" fill="#fff" stroke="#444" stroke-width="0.6"/>
<line x1="337.76" y1="318.6" x2="337.76" y2="323.8" stroke="#333" stroke-width="0.8" />
<line x1="336.26" y1="318.6" x2="339.26" y2="318.6" stroke="#333" stroke-width="0.8" />
<circle cx="337.76" cy="319.2" r="1.25" fill="#fff" stroke="#444" stroke-width="0.6"/>
<circle cx="335.36" cy="324.4" r="1.25" fill="#fff" stroke="#444" stroke-width="0.6"/>
<circle cx="340.16" cy="324.2" r="1.25" fill="#fff" stroke="#444" stroke-width="0.6"/>
<line x1="349.09" y1="321" x2="349.09" y2="324.7" stroke="#333" stroke-width="0.8" />
<line x1="347.59" y1="321" x2="350.59" y2="321" stroke="#333" stroke-width="0.8" />
<circle cx="346.69" cy="325.1" r="1.25" fill="#fff" stroke="#444" stroke-width="0.6"/>
<circle cx="349.09" cy="323.1" r="1.25" fill="#fff" stroke="#444" stroke-width="0.6"/>
<circle cx="349.09" cy="327.9" r="1.25" fill="#fff" stroke="#444" stroke-width="0.6"/>
<circle cx="351.49" cy="324.9" r="1.25" fill="#fff" stroke="#444" stroke-width="0.6"/>
<circle cx="364.9" cy="323" r="1.25" fill="#fff" stroke="#444" stroke-width="0.6"/>
<circle cx="367.3" cy="322.4" r="1.25" fill="#fff" stroke="#444" stroke-width="0.6"/>
<circle cx="369.7" cy="322.8" r="1.25" fill="#fff" stroke="#444" stroke-width="0.6"/>
<circle cx="376.23" cy="329.4" r="1.25" fill="#fff" stroke="#444" stroke-width="0.6"/>
<circle cx="378.63" cy="328.2" r="1.25" fill="#fff" stroke="#444" stroke-width="0.6"/>
<circle cx="381.03" cy="329.8" r="1.25" fill="#fff" stroke="#444" stroke-width="0.6"/>
<line x1="389.96" y1="283.3" x2="389.96" y2="291.2" stroke="#333" stroke-width="0.8" />
<line x1="388.46" y1="283.3" x2="391.46" y2="283.3" stroke="#333" stroke-width="0.8" />
<circle cx="389.96" cy="284.7" r="1.25" fill="#fff" stroke="#444" stroke-width="0.6"/>
<circle cx="389.96" cy="291.7" r="1.25" fill="#fff" stroke="#444" stroke-width="0.6"/>
<circle cx="390.36" cy="299.1" r="1.25" fill="#fff" stroke="#444" stroke-width="0.6"/>
<line x1="401.29" y1="280.5" x2="401.29" y2="290.3" stroke="#333" stroke-width="0.8" />
<line x1="399.79" y1="280.5" x2="402.79" y2="280.5" stroke="#333" stroke-width="0.8" />
<circle cx="401.29" cy="282.1" r="1.25" fill="#fff" stroke="#444" stroke-width="0.6"/>
<circle cx="401.29" cy="292" r="1.25" fill="#fff" stroke="#444" stroke-width="0.6"/>
<circle cx="401.29" cy="296" r="1.25" fill="#fff" stroke="#444" stroke-width="0.6"/>
<polyline points="315.1,329.8 315.1,315.1 326.43,315.1 326.43,330.4" fill="none" stroke="#a8a8a8" stroke-width="0.9"/>
<text x="320.76" y="312.5" font-size="5.9" text-anchor="middle" font-weight="normal" fill="#111" stroke="#111" stroke-width="0.18" >ns</text>
<polyline points="315.1,286.8 315.1,282.4 337.76,282.4 337.76,314.7" fill="none" stroke="#a8a8a8" stroke-width="0.9"/>
<circle cx="326.43" cy="277.7" r="1.18" fill="#000"/>
<polyline points="315.1,272.5 315.1,268.1 349.09,268.1 349.09,321.5" fill="none" stroke="#a8a8a8" stroke-width="0.9"/>
<circle cx="332.1" cy="263.7" r="1.18" fill="#000"/>
<polyline points="367.3,318.6 367.3,315.1 378.63,315.1 378.63,323.2" fill="none" stroke="#a8a8a8" stroke-width="0.9"/>
<text x="372.97" y="312.5" font-size="5.9" text-anchor="middle" font-weight="normal" fill="#111" stroke="#111" stroke-width="0.18" >ns</text>
<polyline points="367.3,282.1 367.3,277.7 389.96,277.7 389.96,280.2" fill="none" stroke="#a8a8a8" stroke-width="0.9"/>
<circle cx="378.63" cy="273.3" r="1.18" fill="#000"/>
<polyline points="367.3,272.5 367.3,268.1 401.29,268.1 401.29,278.2" fill="none" stroke="#a8a8a8" stroke-width="0.9"/>
<circle cx="384.3" cy="263.7" r="1.18" fill="#000"/>
<text x="332.1" y="345.4" font-size="6.6" text-anchor="middle" font-weight="normal" fill="#111" stroke="#111" stroke-width="0.18" >400 PP/cell</text>
<text x="384.3" y="345.4" font-size="6.6" text-anchor="middle" font-weight="normal" fill="#111" stroke="#111" stroke-width="0.18" >1600 PP/cell</text>
<line x1="310.8" y1="349.8" x2="353.39" y2="349.8" stroke="#666" stroke-width="1" />
<line x1="363" y1="349.8" x2="405.59" y2="349.8" stroke="#666" stroke-width="1" />
<text x="418.4" y="252.2" font-size="10.5" text-anchor="start" font-weight="bold" fill="#000" >J</text>
<text x="495.9" y="255.9" font-size="6.3" text-anchor="middle" font-weight="normal" fill="#111" stroke="#111" stroke-width="0.18" >COS-7</text>
<line x1="444.3" y1="266.4" x2="444.3" y2="334.8" stroke="#222" stroke-width="1" />
<line x1="441.5" y1="334.3" x2="444.3" y2="334.3" stroke="#222" stroke-width="0.9" />
<text x="440.7" y="336.6" font-size="6.4" text-anchor="end" font-weight="normal" fill="#111" stroke="#111" stroke-width="0.18" >0</text>
<line x1="442.9" y1="327.56" x2="444.3" y2="327.56" stroke="#333" stroke-width="0.7" />
<line x1="442.9" y1="320.82" x2="444.3" y2="320.82" stroke="#333" stroke-width="0.7" />
<line x1="442.9" y1="314.08" x2="444.3" y2="314.08" stroke="#333" stroke-width="0.7" />
<line x1="442.9" y1="307.34" x2="444.3" y2="307.34" stroke="#333" stroke-width="0.7" />
<line x1="441.5" y1="300.6" x2="444.3" y2="300.6" stroke="#222" stroke-width="0.9" />
<text x="440.7" y="302.9" font-size="6.4" text-anchor="end" font-weight="normal" fill="#111" stroke="#111" stroke-width="0.18" >5</text>
<line x1="442.9" y1="293.86" x2="444.3" y2="293.86" stroke="#333" stroke-width="0.7" />
<line x1="442.9" y1="287.12" x2="444.3" y2="287.12" stroke="#333" stroke-width="0.7" />
<line x1="442.9" y1="280.38" x2="444.3" y2="280.38" stroke="#333" stroke-width="0.7" />
<line x1="442.9" y1="273.64" x2="444.3" y2="273.64" stroke="#333" stroke-width="0.7" />
<line x1="441.5" y1="266.9" x2="444.3" y2="266.9" stroke="#222" stroke-width="0.9" />
<text x="440.7" y="269.2" font-size="6.4" text-anchor="end" font-weight="normal" fill="#111" stroke="#111" stroke-width="0.18" >10</text>
<text transform="translate(429.7,300.2) rotate(-90)" font-size="6.5" text-anchor="middle" fill="#111" stroke="#111" stroke-width="0.18">GFP<tspan font-size="4.8" dy="-2.6">+</tspan><tspan dy="2.6"> cells (%)</tspan></text>
<line x1="443.8" y1="334.3" x2="546.55" y2="334.3" stroke="#222" stroke-width="1" />
<rect x="449" y="329.8" width="7.2" height="4.3" fill="#dde9f6" stroke="#a6cbee" stroke-width="1"/>
<rect x="460.35" y="330.5" width="7.2" height="3.6" fill="#d6f1e5" stroke="#6cd2a6" stroke-width="1"/>
<rect x="471.7" y="323.4" width="7.2" height="10.7" fill="#c9c9ea" stroke="#6060d6" stroke-width="1.2"/>
<rect x="483.05" y="322.4" width="7.2" height="11.7" fill="#cdcdcd" stroke="#777777" stroke-width="1"/>
<rect x="502.2" y="309.3" width="7.2" height="24.8" fill="#dde9f6" stroke="#a6cbee" stroke-width="1"/>
<rect x="513.55" y="309.9" width="7.2" height="24.2" fill="#d6f1e5" stroke="#6cd2a6" stroke-width="1"/>
<rect x="524.9" y="292.6" width="7.2" height="41.5" fill="#c9c9ea" stroke="#6060d6" stroke-width="1.2"/>
<rect x="536.25" y="280" width="7.2" height="54.1" fill="#cdcdcd" stroke="#777777" stroke-width="1"/>
<circle cx="450.2" cy="330.2" r="1.25" fill="#fff" stroke="#444" stroke-width="0.6"/>
<circle cx="452.6" cy="328.8" r="1.25" fill="#fff" stroke="#444" stroke-width="0.6"/>
<circle cx="455" cy="329.8" r="1.25" fill="#fff" stroke="#444" stroke-width="0.6"/>
<circle cx="461.75" cy="330.5" r="1.25" fill="#fff" stroke="#444" stroke-width="0.6"/>
<circle cx="463.95" cy="330.1" r="1.25" fill="#fff" stroke="#444" stroke-width="0.6"/>
<circle cx="466.15" cy="330.5" r="1.25" fill="#fff" stroke="#444" stroke-width="0.6"/>
<circle cx="473.1" cy="323.4" r="1.25" fill="#fff" stroke="#444" stroke-width="0.6"/>
<circle cx="475.3" cy="323" r="1.25" fill="#fff" stroke="#444" stroke-width="0.6"/>
<circle cx="477.5" cy="323.4" r="1.25" fill="#fff" stroke="#444" stroke-width="0.6"/>
<circle cx="484.45" cy="322.4" r="1.25" fill="#fff" stroke="#444" stroke-width="0.6"/>
<circle cx="486.65" cy="322" r="1.25" fill="#fff" stroke="#444" stroke-width="0.6"/>
<circle cx="488.85" cy="322.4" r="1.25" fill="#fff" stroke="#444" stroke-width="0.6"/>
<circle cx="503.4" cy="308.9" r="1.25" fill="#fff" stroke="#444" stroke-width="0.6"/>
<circle cx="505.8" cy="311.9" r="1.25" fill="#fff" stroke="#444" stroke-width="0.6"/>
<circle cx="508.2" cy="309.3" r="1.25" fill="#fff" stroke="#444" stroke-width="0.6"/>
<circle cx="514.95" cy="309.9" r="1.25" fill="#fff" stroke="#444" stroke-width="0.6"/>
<circle cx="517.15" cy="309.5" r="1.25" fill="#fff" stroke="#444" stroke-width="0.6"/>
<circle cx="519.35" cy="309.9" r="1.25" fill="#fff" stroke="#444" stroke-width="0.6"/>
<circle cx="526.1" cy="292.6" r="1.25" fill="#fff" stroke="#444" stroke-width="0.6"/>
<circle cx="528.5" cy="290" r="1.25" fill="#fff" stroke="#444" stroke-width="0.6"/>
<circle cx="530.9" cy="293" r="1.25" fill="#fff" stroke="#444" stroke-width="0.6"/>
<circle cx="537.45" cy="280" r="1.25" fill="#fff" stroke="#444" stroke-width="0.6"/>
<circle cx="542.25" cy="281.4" r="1.25" fill="#fff" stroke="#444" stroke-width="0.6"/>
<circle cx="540.25" cy="282.4" r="1.25" fill="#fff" stroke="#444" stroke-width="0.6"/>
<polyline points="452.6,326.3 452.6,302.2 463.95,302.2 463.95,327" fill="none" stroke="#a8a8a8" stroke-width="0.9"/>
<text x="458.28" y="300" font-size="5.9" text-anchor="middle" font-weight="normal" fill="#111" stroke="#111" stroke-width="0.18" >ns</text>
<polyline points="452.6,286.8 452.6,282.4 475.3,282.4 475.3,320.5" fill="none" stroke="#a8a8a8" stroke-width="0.9"/>
<circle cx="463.95" cy="277.7" r="1.18" fill="#000"/>
<polyline points="452.6,277.1 452.6,272.7 486.65,272.7 486.65,319.5" fill="none" stroke="#a8a8a8" stroke-width="0.9"/>
<circle cx="465.07" cy="268.5" r="1.18" fill="#000"/>
<circle cx="469.62" cy="268.5" r="1.18" fill="#000"/>
<circle cx="474.18" cy="268.5" r="1.18" fill="#000"/>
<polyline points="505.8,306.6 505.8,302.2 517.15,302.2 517.15,306.6" fill="none" stroke="#a8a8a8" stroke-width="0.9"/>
<text x="511.48" y="300" font-size="5.9" text-anchor="middle" font-weight="normal" fill="#111" stroke="#111" stroke-width="0.18" >ns</text>
<polyline points="505.8,286.8 505.8,282.4 528.5,282.4 528.5,285.8" fill="none" stroke="#a8a8a8" stroke-width="0.9"/>
<circle cx="517.15" cy="277.7" r="1.18" fill="#000"/>
<polyline points="505.8,277.1 505.8,272.7 539.85,272.7 539.85,276.6" fill="none" stroke="#a8a8a8" stroke-width="0.9"/>
<circle cx="518.28" cy="268.5" r="1.18" fill="#000"/>
<circle cx="522.83" cy="268.5" r="1.18" fill="#000"/>
<circle cx="527.38" cy="268.5" r="1.18" fill="#000"/>
<text x="469.62" y="345.4" font-size="6.6" text-anchor="middle" font-weight="normal" fill="#111" stroke="#111" stroke-width="0.18" >400 PP/cell</text>
<text x="522.83" y="345.4" font-size="6.6" text-anchor="middle" font-weight="normal" fill="#111" stroke="#111" stroke-width="0.18" >1600 PP/cell</text>
<line x1="448.3" y1="349.8" x2="490.95" y2="349.8" stroke="#666" stroke-width="1" />
<line x1="501.5" y1="349.8" x2="544.15" y2="349.8" stroke="#666" stroke-width="1" />
<text x="2.6" y="374.9" font-size="10.5" text-anchor="start" font-weight="bold" fill="#000" >K</text>
<text x="79.9" y="378.6" font-size="6.3" text-anchor="middle" font-weight="normal" fill="#111" stroke="#111" stroke-width="0.18" >Mouse ESC</text>
<line x1="28.3" y1="388.5" x2="28.3" y2="457.6" stroke="#222" stroke-width="1" />
<line x1="25.5" y1="457.1" x2="28.3" y2="457.1" stroke="#222" stroke-width="0.9" />
<text x="24.7" y="459.4" font-size="6.4" text-anchor="end" font-weight="normal" fill="#111" stroke="#111" stroke-width="0.18" >0</text>
<line x1="26.9" y1="453.7" x2="28.3" y2="453.7" stroke="#333" stroke-width="0.7" />
<line x1="26.9" y1="450.29" x2="28.3" y2="450.29" stroke="#333" stroke-width="0.7" />
<line x1="26.9" y1="446.88" x2="28.3" y2="446.88" stroke="#333" stroke-width="0.7" />
<line x1="26.9" y1="443.48" x2="28.3" y2="443.48" stroke="#333" stroke-width="0.7" />
<line x1="25.5" y1="440.08" x2="28.3" y2="440.08" stroke="#222" stroke-width="0.9" />
<text x="24.7" y="442.38" font-size="6.4" text-anchor="end" font-weight="normal" fill="#111" stroke="#111" stroke-width="0.18" >8</text>
<line x1="26.9" y1="436.67" x2="28.3" y2="436.67" stroke="#333" stroke-width="0.7" />
<line x1="26.9" y1="433.27" x2="28.3" y2="433.27" stroke="#333" stroke-width="0.7" />
<line x1="26.9" y1="429.86" x2="28.3" y2="429.86" stroke="#333" stroke-width="0.7" />
<line x1="26.9" y1="426.46" x2="28.3" y2="426.46" stroke="#333" stroke-width="0.7" />
<line x1="25.5" y1="423.05" x2="28.3" y2="423.05" stroke="#222" stroke-width="0.9" />
<text x="24.7" y="425.35" font-size="6.4" text-anchor="end" font-weight="normal" fill="#111" stroke="#111" stroke-width="0.18" >16</text>
<line x1="26.9" y1="419.64" x2="28.3" y2="419.64" stroke="#333" stroke-width="0.7" />
<line x1="26.9" y1="416.24" x2="28.3" y2="416.24" stroke="#333" stroke-width="0.7" />
<line x1="26.9" y1="412.84" x2="28.3" y2="412.84" stroke="#333" stroke-width="0.7" />
<line x1="26.9" y1="409.43" x2="28.3" y2="409.43" stroke="#333" stroke-width="0.7" />
<line x1="25.5" y1="406.02" x2="28.3" y2="406.02" stroke="#222" stroke-width="0.9" />
<text x="24.7" y="408.32" font-size="6.4" text-anchor="end" font-weight="normal" fill="#111" stroke="#111" stroke-width="0.18" >24</text>
<line x1="26.9" y1="402.62" x2="28.3" y2="402.62" stroke="#333" stroke-width="0.7" />
<line x1="26.9" y1="399.21" x2="28.3" y2="399.21" stroke="#333" stroke-width="0.7" />
<line x1="26.9" y1="395.81" x2="28.3" y2="395.81" stroke="#333" stroke-width="0.7" />
<line x1="26.9" y1="392.4" x2="28.3" y2="392.4" stroke="#333" stroke-width="0.7" />
<line x1="25.5" y1="389" x2="28.3" y2="389" stroke="#222" stroke-width="0.9" />
<text x="24.7" y="391.3" font-size="6.4" text-anchor="end" font-weight="normal" fill="#111" stroke="#111" stroke-width="0.18" >32</text>
<text transform="translate(13.6,422.65) rotate(-90)" font-size="6.5" text-anchor="middle" fill="#111" stroke="#111" stroke-width="0.18">GFP<tspan font-size="4.8" dy="-2.6">+</tspan><tspan dy="2.6"> cells (%)</tspan></text>
<line x1="27.8" y1="457.1" x2="129.84" y2="457.1" stroke="#222" stroke-width="1" />
<rect x="32.3" y="431.9" width="7.2" height="25" fill="#dde9f6" stroke="#a6cbee" stroke-width="1"/>
<rect x="43.68" y="431.9" width="7.2" height="25" fill="#d6f1e5" stroke="#6cd2a6" stroke-width="1"/>
<rect x="55.06" y="428.1" width="7.2" height="28.8" fill="#c9c9ea" stroke="#6060d6" stroke-width="1.2"/>
<rect x="66.44" y="424.2" width="7.2" height="32.7" fill="#cdcdcd" stroke="#777777" stroke-width="1"/>
<rect x="85.4" y="417.1" width="7.2" height="39.8" fill="#dde9f6" stroke="#a6cbee" stroke-width="1"/>
<rect x="96.78" y="417.5" width="7.2" height="39.4" fill="#d6f1e5" stroke="#6cd2a6" stroke-width="1"/>
<rect x="108.16" y="405.9" width="7.2" height="51" fill="#c9c9ea" stroke="#6060d6" stroke-width="1.2"/>
<rect x="119.54" y="406.3" width="7.2" height="50.6" fill="#cdcdcd" stroke="#777777" stroke-width="1"/>
<circle cx="33.7" cy="431.9" r="1.25" fill="#fff" stroke="#444" stroke-width="0.6"/>
<circle cx="35.9" cy="431.5" r="1.25" fill="#fff" stroke="#444" stroke-width="0.6"/>
<circle cx="38.1" cy="431.9" r="1.25" fill="#fff" stroke="#444" stroke-width="0.6"/>
<circle cx="45.08" cy="431.9" r="1.25" fill="#fff" stroke="#444" stroke-width="0.6"/>
<circle cx="47.28" cy="431.5" r="1.25" fill="#fff" stroke="#444" stroke-width="0.6"/>
<circle cx="49.48" cy="431.9" r="1.25" fill="#fff" stroke="#444" stroke-width="0.6"/>
<circle cx="56.46" cy="428.1" r="1.25" fill="#fff" stroke="#444" stroke-width="0.6"/>
<circle cx="58.66" cy="427.7" r="1.25" fill="#fff" stroke="#444" stroke-width="0.6"/>
<circle cx="60.86" cy="428.1" r="1.25" fill="#fff" stroke="#444" stroke-width="0.6"/>
<circle cx="67.84" cy="424.2" r="1.25" fill="#fff" stroke="#444" stroke-width="0.6"/>
<circle cx="70.04" cy="423.8" r="1.25" fill="#fff" stroke="#444" stroke-width="0.6"/>
<circle cx="72.24" cy="424.2" r="1.25" fill="#fff" stroke="#444" stroke-width="0.6"/>
<circle cx="86.8" cy="417.1" r="1.25" fill="#fff" stroke="#444" stroke-width="0.6"/>
<circle cx="89" cy="416.7" r="1.25" fill="#fff" stroke="#444" stroke-width="0.6"/>
<circle cx="91.2" cy="417.1" r="1.25" fill="#fff" stroke="#444" stroke-width="0.6"/>
<circle cx="97.98" cy="418.1" r="1.25" fill="#fff" stroke="#444" stroke-width="0.6"/>
<circle cx="100.38" cy="416.3" r="1.25" fill="#fff" stroke="#444" stroke-width="0.6"/>
<circle cx="102.78" cy="417.5" r="1.25" fill="#fff" stroke="#444" stroke-width="0.6"/>
<circle cx="109.56" cy="405.9" r="1.25" fill="#fff" stroke="#444" stroke-width="0.6"/>
<circle cx="111.76" cy="405.5" r="1.25" fill="#fff" stroke="#444" stroke-width="0.6"/>
<circle cx="113.96" cy="405.9" r="1.25" fill="#fff" stroke="#444" stroke-width="0.6"/>
<circle cx="120.94" cy="406.3" r="1.25" fill="#fff" stroke="#444" stroke-width="0.6"/>
<circle cx="123.14" cy="405.9" r="1.25" fill="#fff" stroke="#444" stroke-width="0.6"/>
<circle cx="125.34" cy="406.3" r="1.25" fill="#fff" stroke="#444" stroke-width="0.6"/>
<polyline points="35.9,427.1 35.9,419 47.28,419 47.28,427.1" fill="none" stroke="#a8a8a8" stroke-width="0.9"/>
<text x="41.59" y="416.7" font-size="5.9" text-anchor="middle" font-weight="normal" fill="#111" stroke="#111" stroke-width="0.18" >ns</text>
<polyline points="35.9,408.8 35.9,404.4 58.66,404.4 58.66,424.2" fill="none" stroke="#a8a8a8" stroke-width="0.9"/>
<circle cx="42.73" cy="400.5" r="1.18" fill="#000"/>
<circle cx="47.28" cy="400.5" r="1.18" fill="#000"/>
<circle cx="51.83" cy="400.5" r="1.18" fill="#000"/>
<polyline points="35.9,393.9 35.9,389.5 70.04,389.5 70.04,419" fill="none" stroke="#a8a8a8" stroke-width="0.9"/>
<circle cx="46.14" cy="385.7" r="1.18" fill="#000"/>
<circle cx="50.69" cy="385.7" r="1.18" fill="#000"/>
<circle cx="55.24" cy="385.7" r="1.18" fill="#000"/>
<circle cx="59.79" cy="385.7" r="1.18" fill="#000"/>
<polyline points="89,413.6 89,409.4 100.38,409.4 100.38,413.6" fill="none" stroke="#a8a8a8" stroke-width="0.9"/>
<text x="94.69" y="407.1" font-size="5.9" text-anchor="middle" font-weight="normal" fill="#111" stroke="#111" stroke-width="0.18" >ns</text>
<polyline points="89,400.7 89,396.3 111.76,396.3 111.76,403" fill="none" stroke="#a8a8a8" stroke-width="0.9"/>
<circle cx="93.55" cy="392.8" r="1.18" fill="#000"/>
<circle cx="98.1" cy="392.8" r="1.18" fill="#000"/>
<circle cx="102.65" cy="392.8" r="1.18" fill="#000"/>
<circle cx="107.2" cy="392.8" r="1.18" fill="#000"/>
<polyline points="89,391 89,386.6 123.14,386.6 123.14,403" fill="none" stroke="#a8a8a8" stroke-width="0.9"/>
<circle cx="99.24" cy="383.2" r="1.18" fill="#000"/>
<circle cx="103.79" cy="383.2" r="1.18" fill="#000"/>
<circle cx="108.34" cy="383.2" r="1.18" fill="#000"/>
<circle cx="112.89" cy="383.2" r="1.18" fill="#000"/>
<text x="52.97" y="467.1" font-size="6.6" text-anchor="middle" font-weight="normal" fill="#111" stroke="#111" stroke-width="0.18" >1600 PP/cell</text>
<text x="106.07" y="467.1" font-size="6.6" text-anchor="middle" font-weight="normal" fill="#111" stroke="#111" stroke-width="0.18" >3200 PP/cell</text>
<line x1="31.6" y1="472.6" x2="74.34" y2="472.6" stroke="#666" stroke-width="1" />
<line x1="84.7" y1="472.6" x2="127.44" y2="472.6" stroke="#666" stroke-width="1" />
<text x="141.8" y="374.9" font-size="10.5" text-anchor="start" font-weight="bold" fill="#000" >L</text>
<text x="217.5" y="378.6" font-size="6.3" text-anchor="middle" font-weight="normal" fill="#111" stroke="#111" stroke-width="0.18" >NIH3T3</text>
<line x1="166.3" y1="388.5" x2="166.3" y2="457.6" stroke="#222" stroke-width="1" />
<line x1="163.5" y1="457.1" x2="166.3" y2="457.1" stroke="#222" stroke-width="0.9" />
<text x="162.7" y="459.4" font-size="6.4" text-anchor="end" font-weight="normal" fill="#111" stroke="#111" stroke-width="0.18" >0</text>
<line x1="164.9" y1="452.56" x2="166.3" y2="452.56" stroke="#333" stroke-width="0.7" />
<line x1="164.9" y1="448.02" x2="166.3" y2="448.02" stroke="#333" stroke-width="0.7" />
<line x1="164.9" y1="443.48" x2="166.3" y2="443.48" stroke="#333" stroke-width="0.7" />
<line x1="164.9" y1="438.94" x2="166.3" y2="438.94" stroke="#333" stroke-width="0.7" />
<line x1="163.5" y1="434.4" x2="166.3" y2="434.4" stroke="#222" stroke-width="0.9" />
<text x="162.7" y="436.7" font-size="6.4" text-anchor="end" font-weight="normal" fill="#111" stroke="#111" stroke-width="0.18" >10</text>
<line x1="164.9" y1="429.86" x2="166.3" y2="429.86" stroke="#333" stroke-width="0.7" />
<line x1="164.9" y1="425.32" x2="166.3" y2="425.32" stroke="#333" stroke-width="0.7" />
<line x1="164.9" y1="420.78" x2="166.3" y2="420.78" stroke="#333" stroke-width="0.7" />
<line x1="164.9" y1="416.24" x2="166.3" y2="416.24" stroke="#333" stroke-width="0.7" />
<line x1="163.5" y1="411.7" x2="166.3" y2="411.7" stroke="#222" stroke-width="0.9" />
<text x="162.7" y="414" font-size="6.4" text-anchor="end" font-weight="normal" fill="#111" stroke="#111" stroke-width="0.18" >20</text>
<line x1="164.9" y1="407.16" x2="166.3" y2="407.16" stroke="#333" stroke-width="0.7" />
<line x1="164.9" y1="402.62" x2="166.3" y2="402.62" stroke="#333" stroke-width="0.7" />
<line x1="164.9" y1="398.08" x2="166.3" y2="398.08" stroke="#333" stroke-width="0.7" />
<line x1="164.9" y1="393.54" x2="166.3" y2="393.54" stroke="#333" stroke-width="0.7" />
<line x1="163.5" y1="389" x2="166.3" y2="389" stroke="#222" stroke-width="0.9" />
<text x="162.7" y="391.3" font-size="6.4" text-anchor="end" font-weight="normal" fill="#111" stroke="#111" stroke-width="0.18" >30</text>
<text transform="translate(152.3,422.65) rotate(-90)" font-size="6.5" text-anchor="middle" fill="#111" stroke="#111" stroke-width="0.18">GFP<tspan font-size="4.8" dy="-2.6">+</tspan><tspan dy="2.6"> cells (%)</tspan></text>
<line x1="165.8" y1="457.1" x2="268.34" y2="457.1" stroke="#222" stroke-width="1" />
<rect x="171.2" y="440.6" width="7.2" height="16.3" fill="#dde9f6" stroke="#a6cbee" stroke-width="1"/>
<rect x="182.48" y="442.5" width="7.2" height="14.4" fill="#d6f1e5" stroke="#6cd2a6" stroke-width="1"/>
<rect x="193.76" y="423.2" width="7.2" height="33.7" fill="#c9c9ea" stroke="#6060d6" stroke-width="1.2"/>
<rect x="205.04" y="423.2" width="7.2" height="33.7" fill="#cdcdcd" stroke="#777777" stroke-width="1"/>
<rect x="224.2" y="427.5" width="7.2" height="29.4" fill="#dde9f6" stroke="#a6cbee" stroke-width="1"/>
<rect x="235.48" y="430.6" width="7.2" height="26.3" fill="#d6f1e5" stroke="#6cd2a6" stroke-width="1"/>
<rect x="246.76" y="407.8" width="7.2" height="49.1" fill="#c9c9ea" stroke="#6060d6" stroke-width="1.2"/>
<rect x="258.04" y="408.8" width="7.2" height="48.1" fill="#cdcdcd" stroke="#777777" stroke-width="1"/>
<circle cx="172.6" cy="440.6" r="1.25" fill="#fff" stroke="#444" stroke-width="0.6"/>
<circle cx="174.8" cy="440.2" r="1.25" fill="#fff" stroke="#444" stroke-width="0.6"/>
<circle cx="177" cy="440.6" r="1.25" fill="#fff" stroke="#444" stroke-width="0.6"/>
<circle cx="183.88" cy="442.5" r="1.25" fill="#fff" stroke="#444" stroke-width="0.6"/>
<circle cx="186.08" cy="442.1" r="1.25" fill="#fff" stroke="#444" stroke-width="0.6"/>
<circle cx="188.28" cy="442.5" r="1.25" fill="#fff" stroke="#444" stroke-width="0.6"/>
<circle cx="195.16" cy="423.2" r="1.25" fill="#fff" stroke="#444" stroke-width="0.6"/>
<circle cx="197.36" cy="422.8" r="1.25" fill="#fff" stroke="#444" stroke-width="0.6"/>
<circle cx="199.56" cy="423.2" r="1.25" fill="#fff" stroke="#444" stroke-width="0.6"/>
<circle cx="206.24" cy="423.6" r="1.25" fill="#fff" stroke="#444" stroke-width="0.6"/>
<circle cx="208.64" cy="422.2" r="1.25" fill="#fff" stroke="#444" stroke-width="0.6"/>
<circle cx="211.04" cy="423.4" r="1.25" fill="#fff" stroke="#444" stroke-width="0.6"/>
<circle cx="225.4" cy="426.9" r="1.25" fill="#fff" stroke="#444" stroke-width="0.6"/>
<circle cx="225.4" cy="429.3" r="1.25" fill="#fff" stroke="#444" stroke-width="0.6"/>
<circle cx="230.2" cy="428.5" r="1.25" fill="#fff" stroke="#444" stroke-width="0.6"/>
<circle cx="236.88" cy="430.6" r="1.25" fill="#fff" stroke="#444" stroke-width="0.6"/>
<circle cx="239.08" cy="430.2" r="1.25" fill="#fff" stroke="#444" stroke-width="0.6"/>
<circle cx="241.28" cy="430.6" r="1.25" fill="#fff" stroke="#444" stroke-width="0.6"/>
<circle cx="248.16" cy="407.8" r="1.25" fill="#fff" stroke="#444" stroke-width="0.6"/>
<circle cx="250.36" cy="407.4" r="1.25" fill="#fff" stroke="#444" stroke-width="0.6"/>
<circle cx="252.56" cy="407.8" r="1.25" fill="#fff" stroke="#444" stroke-width="0.6"/>
<circle cx="259.44" cy="408.8" r="1.25" fill="#fff" stroke="#444" stroke-width="0.6"/>
<circle cx="261.64" cy="408.4" r="1.25" fill="#fff" stroke="#444" stroke-width="0.6"/>
<circle cx="263.84" cy="408.8" r="1.25" fill="#fff" stroke="#444" stroke-width="0.6"/>
<polyline points="174.8,437.7 174.8,422.3 186.08,422.3 186.08,437.7" fill="none" stroke="#a8a8a8" stroke-width="0.9"/>
<text x="180.44" y="419.1" font-size="5.9" text-anchor="middle" font-weight="normal" fill="#111" stroke="#111" stroke-width="0.18" >ns</text>
<polyline points="174.8,415.1 174.8,410.7 197.36,410.7 197.36,419.8" fill="none" stroke="#a8a8a8" stroke-width="0.9"/>
<circle cx="179.25" cy="406.3" r="1.18" fill="#000"/>
<circle cx="183.81" cy="406.3" r="1.18" fill="#000"/>
<circle cx="188.35" cy="406.3" r="1.18" fill="#000"/>
<circle cx="192.91" cy="406.3" r="1.18" fill="#000"/>
<polyline points="174.8,398.4 174.8,394 208.64,394 208.64,419.8" fill="none" stroke="#a8a8a8" stroke-width="0.9"/>
<circle cx="184.89" cy="390.1" r="1.18" fill="#000"/>
<circle cx="189.44" cy="390.1" r="1.18" fill="#000"/>
<circle cx="193.99" cy="390.1" r="1.18" fill="#000"/>
<circle cx="198.54" cy="390.1" r="1.18" fill="#000"/>
<polyline points="227.8,426.1 227.8,419.4 239.08,419.4 239.08,428.6" fill="none" stroke="#a8a8a8" stroke-width="0.9"/>
<text x="233.44" y="416.7" font-size="5.9" text-anchor="middle" font-weight="normal" fill="#111" stroke="#111" stroke-width="0.18" >ns</text>
<polyline points="227.8,406.8 227.8,402.4 250.36,402.4 250.36,405.5" fill="none" stroke="#a8a8a8" stroke-width="0.9"/>
<circle cx="232.25" cy="398.6" r="1.18" fill="#000"/>
<circle cx="236.81" cy="398.6" r="1.18" fill="#000"/>
<circle cx="241.35" cy="398.6" r="1.18" fill="#000"/>
<circle cx="245.91" cy="398.6" r="1.18" fill="#000"/>
<polyline points="227.8,398.4 227.8,394 261.64,394 261.64,405.9" fill="none" stroke="#a8a8a8" stroke-width="0.9"/>
<circle cx="237.89" cy="390.1" r="1.18" fill="#000"/>
<circle cx="242.44" cy="390.1" r="1.18" fill="#000"/>
<circle cx="246.99" cy="390.1" r="1.18" fill="#000"/>
<circle cx="251.54" cy="390.1" r="1.18" fill="#000"/>
<text x="191.72" y="467.1" font-size="6.6" text-anchor="middle" font-weight="normal" fill="#111" stroke="#111" stroke-width="0.18" >1600 PP/cell</text>
<text x="244.72" y="467.1" font-size="6.6" text-anchor="middle" font-weight="normal" fill="#111" stroke="#111" stroke-width="0.18" >3200 PP/cell</text>
<line x1="170.5" y1="472.6" x2="212.94" y2="472.6" stroke="#666" stroke-width="1" />
<line x1="223.5" y1="472.6" x2="265.94" y2="472.6" stroke="#666" stroke-width="1" />
<rect x="278.1" y="392.6" width="7.8" height="4.6" fill="#dde9f6" stroke="#a6cbee" stroke-width="1"/>
<text x="291.1" y="397.4" font-size="7.45" text-anchor="start" font-weight="normal" fill="#111" stroke="#111" stroke-width="0.18" >V-LV</text>
<rect x="278.1" y="403.4" width="7.8" height="4.6" fill="#d6f1e5" stroke="#6cd2a6" stroke-width="1"/>
<text x="291.1" y="408.2" font-size="7.45" text-anchor="start" font-weight="normal" fill="#111" stroke="#111" stroke-width="0.18" >V/F-LV</text>
<rect x="278.1" y="414.2" width="7.8" height="4.6" fill="#c9c9ea" stroke="#6060d6" stroke-width="1"/>
<text x="291.1" y="419" font-size="7.45" text-anchor="start" font-weight="normal" fill="#111" stroke="#111" stroke-width="0.18" >V/HN-LV</text>
<rect x="278.1" y="425" width="7.8" height="4.6" fill="#cdcdcd" stroke="#777777" stroke-width="1"/>
<text x="291.1" y="429.8" font-size="7.45" text-anchor="start" font-weight="normal" fill="#111" stroke="#111" stroke-width="0.18" >V/F/HN-LV</text>
</svg></body></html>
